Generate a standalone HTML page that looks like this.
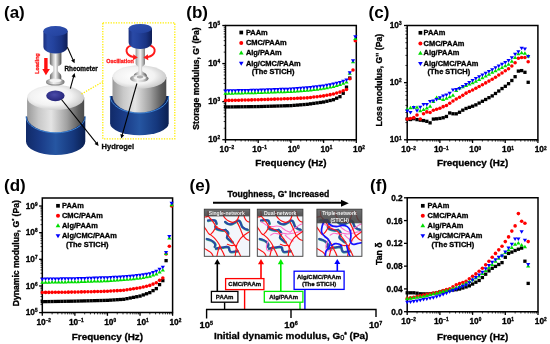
<!DOCTYPE html>
<html><head><meta charset="utf-8"><style>
html,body{margin:0;padding:0;background:#fff;}
svg{display:block;}
text{stroke:#000;stroke-width:.32px;}
text.r{stroke:#ff2020;}
text.w{stroke:none;}
</style></head><body>
<svg width="550" height="344" viewBox="0 0 550 344" font-family="'Liberation Sans', Arial, sans-serif" font-weight="bold">
<rect width="550" height="344" fill="#fff"/>
<g id="pa">
<defs>
<linearGradient id="capb" x1="0" x2="1" y1="0" y2="0">
 <stop offset="0" stop-color="#1a2f7e"/><stop offset="0.18" stop-color="#2a4aa6"/><stop offset="0.4" stop-color="#24439e"/><stop offset="0.75" stop-color="#1a3382"/><stop offset="1" stop-color="#0e1d55"/>
</linearGradient>
<linearGradient id="capt" x1="0" x2="1" y1="0" y2="1">
 <stop offset="0" stop-color="#2f50b0"/><stop offset="1" stop-color="#22419c"/>
</linearGradient>
<linearGradient id="silv" x1="0" x2="1" y1="0" y2="0">
 <stop offset="0" stop-color="#6a6a6a"/><stop offset="0.3" stop-color="#c8c8c8"/><stop offset="0.5" stop-color="#f4f4f4"/><stop offset="0.75" stop-color="#a0a0a0"/><stop offset="1" stop-color="#505050"/>
</linearGradient>
<linearGradient id="plate" x1="0" x2="1" y1="0" y2="0">
 <stop offset="0" stop-color="#8a8a8a"/><stop offset="0.4" stop-color="#f0f0f0"/><stop offset="0.7" stop-color="#d0d0d0"/><stop offset="1" stop-color="#707070"/>
</linearGradient>
<linearGradient id="gbody" x1="0" x2="1" y1="0" y2="0">
 <stop offset="0" stop-color="#9a9a9a"/><stop offset="0.2" stop-color="#c8c8c8"/><stop offset="0.42" stop-color="#e4e4e4"/><stop offset="0.7" stop-color="#a0a0a0"/><stop offset="0.9" stop-color="#5e5e5e"/><stop offset="1" stop-color="#4a4a4a"/>
</linearGradient>
<radialGradient id="gtop" cx="0.42" cy="0.45" r="0.6">
 <stop offset="0" stop-color="#ffffff"/><stop offset="0.6" stop-color="#f2f2f2"/><stop offset="1" stop-color="#c8c8c8"/>
</radialGradient>
<linearGradient id="bband" x1="0" x2="1" y1="0" y2="0">
 <stop offset="0" stop-color="#112a68"/><stop offset="0.25" stop-color="#1a3c88"/><stop offset="0.5" stop-color="#2656a2"/><stop offset="0.8" stop-color="#15377c"/><stop offset="1" stop-color="#0a1f50"/>
</linearGradient>
<radialGradient id="gel" cx="0.45" cy="0.4" r="0.6">
 <stop offset="0" stop-color="#4a4aa8"/><stop offset="1" stop-color="#25257a"/>
</radialGradient>
</defs>
<path d="M26.00 116.50V141.50A29.65 13.50 0 0 0 85.30 141.50V116.50Z" fill="url(#bband)"/>
<path d="M26.00 116.50A29.65 16.30 0 0 0 85.30 116.50" fill="none" stroke="#3f86d6" stroke-width="1.0"/>
<path d="M27.10 97.50V116.50A28.55 15.70 0 0 0 84.20 116.50V97.50Z" fill="url(#gbody)"/>
<ellipse cx="55.65" cy="97.50" rx="28.55" ry="12.50" fill="url(#gtop)" />
<ellipse cx="55.40" cy="95.80" rx="9.20" ry="5.40" fill="url(#gel)" />
<path d="M49.80 52.00L49.80 63.00C49.80 66.00 53.30 65.00 53.30 67.00L53.30 70.50C53.30 72.50 49.90 73.50 49.90 76.00L49.90 81.00L61.30 81.00L61.30 76.00C61.30 73.50 57.90 72.50 57.90 70.50L57.90 67.00C57.90 65.00 61.40 66.00 61.40 63.00L61.40 52.00Z" fill="url(#silv)"/>
<ellipse cx="55.30" cy="82.60" rx="9.30" ry="3.00" fill="#8a8a8a" />
<ellipse cx="55.30" cy="81.40" rx="9.30" ry="3.00" fill="url(#plate)" />
<ellipse cx="55.50" cy="80.60" rx="6.00" ry="1.70" fill="#f4f4f4" />
<path d="M43.40 31.00V46.50C43.40 49.70 46.42 53.24 55.50 53.42C64.58 53.24 67.60 49.70 67.60 46.50V31.00Z" fill="url(#capb)"/>
<ellipse cx="55.50" cy="31.00" rx="12.10" ry="4.90" fill="url(#capt)" />
<path d="M110.10 96.00V123.20A29.30 12.00 0 0 0 168.70 123.20V96.00Z" fill="url(#bband)"/>
<path d="M110.10 96.00A29.30 17.10 0 0 0 168.70 96.00" fill="none" stroke="#3f86d6" stroke-width="1.0"/>
<path d="M112.50 77.00V96.00A26.90 16.50 0 0 0 166.30 96.00V77.00Z" fill="url(#gbody)"/>
<ellipse cx="139.40" cy="77.00" rx="26.90" ry="11.70" fill="url(#gtop)" />
<path d="M135.60 47.00L135.60 63.00C135.60 66.00 138.50 65.50 138.50 67.50L138.50 70.50C138.50 72.50 133.80 73.00 133.80 75.50L133.80 80.50L146.80 80.50L146.80 75.50C146.80 73.00 142.10 72.50 142.10 70.50L142.10 67.50C142.10 65.50 145.00 66.00 145.00 63.00L145.00 47.00Z" fill="url(#silv)"/>
<ellipse cx="139.30" cy="78.50" rx="9.30" ry="3.80" fill="url(#plate)" />
<ellipse cx="139.80" cy="77.80" rx="6.20" ry="2.00" fill="#f4f4f4" />
<ellipse cx="140.00" cy="77.00" rx="3.20" ry="1.40" fill="#b0b0b0" />
<path d="M130.8 45.6 C127.2 46.8 126.2 49.3 126.6 51.5 C127.2 54.6 130.2 56.4 133.6 57.1" fill="none" stroke="#ff1a1a" stroke-width="1.9"/>
<path d="M137.8 57.5 L133.3 54.2 L132.9 60.2 Z" fill="#ff1a1a"/>
<path d="M150.0 45.4 C153.8 46.8 155.0 49.3 154.6 51.5 C154.0 54.6 151.0 56.4 147.6 57.1" fill="none" stroke="#ff1a1a" stroke-width="1.9"/>
<path d="M143.4 57.5 L147.9 54.2 L148.3 60.2 Z" fill="#ff1a1a"/>
<path d="M128.60 28.60V42.10C128.60 45.30 131.53 48.84 140.30 49.02C149.08 48.84 152.00 45.30 152.00 42.10V28.60Z" fill="url(#capb)"/>
<ellipse cx="140.30" cy="28.60" rx="11.70" ry="4.60" fill="url(#capt)" />
<text x="106.2" y="62.6" font-size="5.4" fill="#ff2020" class="r">Oscillation</text>
<text transform="translate(39.4,63.5) rotate(-90)" font-size="5.3" fill="#ff2020" class="r" text-anchor="middle">Loading</text>
<path d="M44.2 57.9H47.6V69.0H49.9L45.9 75.3L42.3 69.0H44.2Z" fill="#ff1010"/>
<rect x="102.8" y="22.8" width="72.0" height="116.0" fill="none" stroke="#ffee00" stroke-width="1.3" stroke-dasharray="1.3 1.3"/>
<line x1="81.5" y1="94.0" x2="102.8" y2="81.8" stroke="#ffee00" stroke-width="1.3" stroke-dasharray="1.3 1.3"/>
<text x="64.4" y="70.5" font-size="6.4" fill="#111">Rheometer</text>
<text x="101.6" y="149.0" font-size="7.5" fill="#111">Hydrogel</text>
<line x1="67.40" y1="47.30" x2="73.16" y2="60.11" stroke="#000" stroke-width="1.1"/><path d="M74.60 63.30L71.13 60.47L74.78 58.83Z" fill="#000"/>
<line x1="70.30" y1="88.70" x2="73.67" y2="76.47" stroke="#000" stroke-width="1.1"/><path d="M74.60 73.10L75.47 77.49L71.61 76.42Z" fill="#000"/>
<line x1="61.50" y1="99.50" x2="96.41" y2="143.17" stroke="#000" stroke-width="1.1"/><path d="M98.60 145.90L94.54 144.02L97.66 141.53Z" fill="#000"/>
<line x1="136.90" y1="83.50" x2="122.16" y2="135.13" stroke="#000" stroke-width="1.1"/><path d="M121.20 138.50L120.37 134.10L124.22 135.20Z" fill="#000"/>
</g>
<g id="pe">
<defs>
<linearGradient id="hdr" x1="0" x2="0" y1="0" y2="1"><stop offset="0" stop-color="#5a5a5a"/><stop offset="0.5" stop-color="#484848"/><stop offset="1" stop-color="#3a3a3a"/></linearGradient>
</defs>
<clipPath id="cb203"><rect x="204.3" y="209.2" width="45.40" height="47.1"/></clipPath>
<g clip-path="url(#cb203)">
<rect x="204.3" y="209.2" width="45.40" height="47.1" fill="#f3f6fb"/>
<g transform="translate(203,215) scale(0.12214)" fill="none" stroke-linecap="round" stroke-linejoin="round">
<path d="M40 45C45.0 44.2 60.0 40.0 70 40C80.0 40.0 93.3 40.0 100 45C106.7 50.0 108.3 65.8 110 70" stroke="#3aa08c" stroke-width="21" transform="translate(2,3)"/>
<path d="M100 92C100.8 95.0 100.0 105.3 105 110C110.0 114.7 120.8 117.5 130 120C139.2 122.5 150.8 125.0 160 125C169.2 125.0 180.8 120.8 185 120" stroke="#3aa08c" stroke-width="21" transform="translate(2,3)"/>
<path d="M195 130C196.7 132.5 204.2 139.2 205 145C205.8 150.8 201.7 158.3 200 165C198.3 171.7 193.3 179.2 195 185C196.7 190.8 204.2 195.0 210 200C215.8 205.0 224.7 211.3 230 215C235.3 218.7 240.0 220.8 242 222" stroke="#3aa08c" stroke-width="21" transform="translate(2,3)"/>
<path d="M180 55C183.3 57.5 191.7 66.7 200 70C208.3 73.3 220.0 76.7 230 75C240.0 73.3 250.8 65.0 260 60C269.2 55.0 278.3 46.7 285 45C291.7 43.3 295.8 45.8 300 50C304.2 54.2 306.7 62.5 310 70C313.3 77.5 315.0 88.3 320 95C325.0 101.7 332.5 105.8 340 110C347.5 114.2 360.8 118.3 365 120" stroke="#3aa08c" stroke-width="21" transform="translate(2,3)"/>
<path d="M30 195C35.0 196.7 50.8 200.8 60 205C69.2 209.2 78.3 214.2 85 220C91.7 225.8 98.3 233.3 100 240C101.7 246.7 95.8 256.7 95 260" stroke="#3aa08c" stroke-width="21" transform="translate(2,3)"/>
<path d="M105 275C108.3 274.2 115.8 271.7 125 270C134.2 268.3 149.2 266.7 160 265C170.8 263.3 181.7 260.0 190 260C198.3 260.0 205.8 260.8 210 265C214.2 269.2 212.5 279.2 215 285C217.5 290.8 218.3 297.5 225 300C231.7 302.5 245.5 300.8 255 300C264.5 299.2 277.5 295.8 282 295" stroke="#3aa08c" stroke-width="21" transform="translate(2,3)"/>
<path d="M40 45C45.0 44.2 60.0 40.0 70 40C80.0 40.0 93.3 40.0 100 45C106.7 50.0 108.3 65.8 110 70" stroke="#2a44a6" stroke-width="15"/>
<path d="M100 92C100.8 95.0 100.0 105.3 105 110C110.0 114.7 120.8 117.5 130 120C139.2 122.5 150.8 125.0 160 125C169.2 125.0 180.8 120.8 185 120" stroke="#2a44a6" stroke-width="15"/>
<path d="M195 130C196.7 132.5 204.2 139.2 205 145C205.8 150.8 201.7 158.3 200 165C198.3 171.7 193.3 179.2 195 185C196.7 190.8 204.2 195.0 210 200C215.8 205.0 224.7 211.3 230 215C235.3 218.7 240.0 220.8 242 222" stroke="#2a44a6" stroke-width="15"/>
<path d="M180 55C183.3 57.5 191.7 66.7 200 70C208.3 73.3 220.0 76.7 230 75C240.0 73.3 250.8 65.0 260 60C269.2 55.0 278.3 46.7 285 45C291.7 43.3 295.8 45.8 300 50C304.2 54.2 306.7 62.5 310 70C313.3 77.5 315.0 88.3 320 95C325.0 101.7 332.5 105.8 340 110C347.5 114.2 360.8 118.3 365 120" stroke="#2a44a6" stroke-width="15"/>
<path d="M30 195C35.0 196.7 50.8 200.8 60 205C69.2 209.2 78.3 214.2 85 220C91.7 225.8 98.3 233.3 100 240C101.7 246.7 95.8 256.7 95 260" stroke="#2a44a6" stroke-width="15"/>
<path d="M105 275C108.3 274.2 115.8 271.7 125 270C134.2 268.3 149.2 266.7 160 265C170.8 263.3 181.7 260.0 190 260C198.3 260.0 205.8 260.8 210 265C214.2 269.2 212.5 279.2 215 285C217.5 290.8 218.3 297.5 225 300C231.7 302.5 245.5 300.8 255 300C264.5 299.2 277.5 295.8 282 295" stroke="#2a44a6" stroke-width="15"/>
<path d="M40 -30C40.8 -23.3 40.0 -1.7 45 10C50.0 21.7 61.7 29.2 70 40C78.3 50.8 89.2 65.8 95 75C100.8 84.2 99.2 89.2 105 95C110.8 100.8 118.3 104.2 130 110C141.7 115.8 163.3 121.7 175 130C186.7 138.3 190.8 148.3 200 160C209.2 171.7 220.8 186.7 230 200C239.2 213.3 246.7 226.7 255 240C263.3 253.3 272.5 266.7 280 280C287.5 293.3 295.0 309.2 300 320C305.0 330.8 308.3 340.8 310 345" stroke="#ff1414" stroke-width="9.5"/>
<path d="M160 -30C160.8 -25.0 161.7 -9.2 165 0C168.3 9.2 172.5 16.7 180 25C187.5 33.3 200.0 44.2 210 50C220.0 55.8 230.0 60.0 240 60C250.0 60.0 261.7 56.7 270 50C278.3 43.3 285.0 33.3 290 20C295.0 6.7 298.3 -21.7 300 -30" stroke="#ff1414" stroke-width="9.5"/>
<path d="M280 60C283.3 66.7 293.3 85.0 300 100C306.7 115.0 315.0 138.3 320 150C325.0 161.7 323.3 161.7 330 170C336.7 178.3 350.0 193.3 360 200C370.0 206.7 385.0 208.3 390 210" stroke="#ff1414" stroke-width="9.5"/>
<path d="M330 170C326.7 173.3 316.7 181.7 310 190C303.3 198.3 295.8 210.0 290 220C284.2 230.0 278.3 238.3 275 250C271.7 261.7 272.2 274.2 270 290C267.8 305.8 263.3 335.8 262 345" stroke="#ff1414" stroke-width="9.5"/>
<path d="M5 90C8.3 95.0 18.3 110.0 25 120C31.7 130.0 39.2 143.3 45 150C50.8 156.7 54.2 161.7 60 160C65.8 158.3 73.3 148.3 80 140C86.7 131.7 94.2 117.5 100 110C105.8 102.5 112.5 97.5 115 95" stroke="#ff1414" stroke-width="9.5"/>
<path d="M60 160C65.0 164.2 80.8 175.8 90 185C99.2 194.2 107.5 205.0 115 215C122.5 225.0 129.2 234.2 135 245C140.8 255.8 145.0 269.2 150 280C155.0 290.8 160.0 299.2 165 310C170.0 320.8 177.5 339.2 180 345" stroke="#ff1414" stroke-width="9.5"/>
<path d="M5 270C9.2 272.5 21.7 280.0 30 285C38.3 290.0 47.5 294.2 55 300C62.5 305.8 70.0 312.5 75 320C80.0 327.5 83.3 340.8 85 345" stroke="#ff1414" stroke-width="9.5"/>
<path d="M390 130C385.0 133.3 370.0 143.3 360 150C350.0 156.7 335.0 166.7 330 170" stroke="#ff1414" stroke-width="9.5"/>
<path d="M200 240C205.0 241.7 219.7 248.7 230 250C240.3 251.3 254.5 248.0 262 248C269.5 248.0 272.8 249.7 275 250" stroke="#ff1414" stroke-width="9.5"/>
<path d="M135 255C132.8 262.5 125.8 285.0 122 300C118.2 315.0 113.7 337.5 112 345" stroke="#ff1414" stroke-width="9.5"/>
<path d="M5 20C8.3 19.2 18.3 16.7 25 15C31.7 13.3 41.7 10.8 45 10" stroke="#ff1414" stroke-width="9.5"/>
<path d="M330 -30C331.7 -21.7 335.0 6.7 340 20C345.0 33.3 351.7 43.3 360 50C368.3 56.7 385.0 58.3 390 60" stroke="#ff1414" stroke-width="9.5"/>
</g></g>
<rect x="204.3" y="209.2" width="45.40" height="7.20" fill="url(#hdr)" opacity="0.86"/>
<rect x="204.3" y="209.2" width="45.40" height="47.10" fill="none" stroke="#3a3a3a" stroke-width="0.9"/>
<text x="208.8" y="215.4" font-size="4.9" fill="#f0f0f0" class="w" textLength="35.90" lengthAdjust="spacingAndGlyphs">Single-network</text>
<clipPath id="cb256"><rect x="257.3" y="209.2" width="45.60" height="47.1"/></clipPath>
<g clip-path="url(#cb256)">
<rect x="257.3" y="209.2" width="45.60" height="47.1" fill="#f3f6fb"/>
<g transform="translate(256,215) scale(0.12214)" fill="none" stroke-linecap="round" stroke-linejoin="round">
<path d="M40 45C45.0 44.2 60.0 40.0 70 40C80.0 40.0 93.3 40.0 100 45C106.7 50.0 108.3 65.8 110 70" stroke="#3aa08c" stroke-width="21" transform="translate(2,3)"/>
<path d="M100 92C100.8 95.0 100.0 105.3 105 110C110.0 114.7 120.8 117.5 130 120C139.2 122.5 150.8 125.0 160 125C169.2 125.0 180.8 120.8 185 120" stroke="#3aa08c" stroke-width="21" transform="translate(2,3)"/>
<path d="M195 130C196.7 132.5 204.2 139.2 205 145C205.8 150.8 201.7 158.3 200 165C198.3 171.7 193.3 179.2 195 185C196.7 190.8 204.2 195.0 210 200C215.8 205.0 224.7 211.3 230 215C235.3 218.7 240.0 220.8 242 222" stroke="#3aa08c" stroke-width="21" transform="translate(2,3)"/>
<path d="M180 55C183.3 57.5 191.7 66.7 200 70C208.3 73.3 220.0 76.7 230 75C240.0 73.3 250.8 65.0 260 60C269.2 55.0 278.3 46.7 285 45C291.7 43.3 295.8 45.8 300 50C304.2 54.2 306.7 62.5 310 70C313.3 77.5 315.0 88.3 320 95C325.0 101.7 332.5 105.8 340 110C347.5 114.2 360.8 118.3 365 120" stroke="#3aa08c" stroke-width="21" transform="translate(2,3)"/>
<path d="M30 195C35.0 196.7 50.8 200.8 60 205C69.2 209.2 78.3 214.2 85 220C91.7 225.8 98.3 233.3 100 240C101.7 246.7 95.8 256.7 95 260" stroke="#3aa08c" stroke-width="21" transform="translate(2,3)"/>
<path d="M105 275C108.3 274.2 115.8 271.7 125 270C134.2 268.3 149.2 266.7 160 265C170.8 263.3 181.7 260.0 190 260C198.3 260.0 205.8 260.8 210 265C214.2 269.2 212.5 279.2 215 285C217.5 290.8 218.3 297.5 225 300C231.7 302.5 245.5 300.8 255 300C264.5 299.2 277.5 295.8 282 295" stroke="#3aa08c" stroke-width="21" transform="translate(2,3)"/>
<path d="M40 45C45.0 44.2 60.0 40.0 70 40C80.0 40.0 93.3 40.0 100 45C106.7 50.0 108.3 65.8 110 70" stroke="#2a44a6" stroke-width="15"/>
<path d="M100 92C100.8 95.0 100.0 105.3 105 110C110.0 114.7 120.8 117.5 130 120C139.2 122.5 150.8 125.0 160 125C169.2 125.0 180.8 120.8 185 120" stroke="#2a44a6" stroke-width="15"/>
<path d="M195 130C196.7 132.5 204.2 139.2 205 145C205.8 150.8 201.7 158.3 200 165C198.3 171.7 193.3 179.2 195 185C196.7 190.8 204.2 195.0 210 200C215.8 205.0 224.7 211.3 230 215C235.3 218.7 240.0 220.8 242 222" stroke="#2a44a6" stroke-width="15"/>
<path d="M180 55C183.3 57.5 191.7 66.7 200 70C208.3 73.3 220.0 76.7 230 75C240.0 73.3 250.8 65.0 260 60C269.2 55.0 278.3 46.7 285 45C291.7 43.3 295.8 45.8 300 50C304.2 54.2 306.7 62.5 310 70C313.3 77.5 315.0 88.3 320 95C325.0 101.7 332.5 105.8 340 110C347.5 114.2 360.8 118.3 365 120" stroke="#2a44a6" stroke-width="15"/>
<path d="M30 195C35.0 196.7 50.8 200.8 60 205C69.2 209.2 78.3 214.2 85 220C91.7 225.8 98.3 233.3 100 240C101.7 246.7 95.8 256.7 95 260" stroke="#2a44a6" stroke-width="15"/>
<path d="M105 275C108.3 274.2 115.8 271.7 125 270C134.2 268.3 149.2 266.7 160 265C170.8 263.3 181.7 260.0 190 260C198.3 260.0 205.8 260.8 210 265C214.2 269.2 212.5 279.2 215 285C217.5 290.8 218.3 297.5 225 300C231.7 302.5 245.5 300.8 255 300C264.5 299.2 277.5 295.8 282 295" stroke="#2a44a6" stroke-width="15"/>
<path d="M40 55C43.3 56.7 53.3 60.8 60 65C66.7 69.2 73.3 75.8 80 80C86.7 84.2 90.0 87.5 100 90C110.0 92.5 128.3 95.0 140 95C151.7 95.0 160.0 90.0 170 90C180.0 90.0 191.7 91.7 200 95C208.3 98.3 211.7 104.2 220 110C228.3 115.8 240.0 125.0 250 130C260.0 135.0 271.7 141.7 280 140C288.3 138.3 291.7 126.7 300 120C308.3 113.3 320.0 106.7 330 100C340.0 93.3 350.0 85.0 360 80C370.0 75.0 385.0 71.7 390 70" stroke="#ff70c8" stroke-width="9"/>
<path d="M120 165C125.0 162.5 138.3 151.7 150 150C161.7 148.3 178.3 155.0 190 155C201.7 155.0 208.3 150.0 220 150C231.7 150.0 246.7 155.0 260 155C273.3 155.0 286.7 152.5 300 150C313.3 147.5 325.0 143.3 340 140C355.0 136.7 381.7 131.7 390 130" stroke="#ff70c8" stroke-width="9"/>
<path d="M100 210C98.3 214.2 92.5 226.7 90 235C87.5 243.3 85.0 251.7 85 260C85.0 268.3 85.8 279.2 90 285C94.2 290.8 102.5 294.2 110 295C117.5 295.8 130.8 290.8 135 290" stroke="#ff70c8" stroke-width="9"/>
<path d="M240 165C243.3 168.3 253.3 179.2 260 185C266.7 190.8 272.5 195.5 280 200C287.5 204.5 300.8 210.0 305 212" stroke="#ff70c8" stroke-width="9"/>
<path d="M40 -30C40.8 -23.3 40.0 -1.7 45 10C50.0 21.7 61.7 29.2 70 40C78.3 50.8 89.2 65.8 95 75C100.8 84.2 99.2 89.2 105 95C110.8 100.8 118.3 104.2 130 110C141.7 115.8 163.3 121.7 175 130C186.7 138.3 190.8 148.3 200 160C209.2 171.7 220.8 186.7 230 200C239.2 213.3 246.7 226.7 255 240C263.3 253.3 272.5 266.7 280 280C287.5 293.3 295.0 309.2 300 320C305.0 330.8 308.3 340.8 310 345" stroke="#ff1414" stroke-width="9.5"/>
<path d="M160 -30C160.8 -25.0 161.7 -9.2 165 0C168.3 9.2 172.5 16.7 180 25C187.5 33.3 200.0 44.2 210 50C220.0 55.8 230.0 60.0 240 60C250.0 60.0 261.7 56.7 270 50C278.3 43.3 285.0 33.3 290 20C295.0 6.7 298.3 -21.7 300 -30" stroke="#ff1414" stroke-width="9.5"/>
<path d="M280 60C283.3 66.7 293.3 85.0 300 100C306.7 115.0 315.0 138.3 320 150C325.0 161.7 323.3 161.7 330 170C336.7 178.3 350.0 193.3 360 200C370.0 206.7 385.0 208.3 390 210" stroke="#ff1414" stroke-width="9.5"/>
<path d="M330 170C326.7 173.3 316.7 181.7 310 190C303.3 198.3 295.8 210.0 290 220C284.2 230.0 278.3 238.3 275 250C271.7 261.7 272.2 274.2 270 290C267.8 305.8 263.3 335.8 262 345" stroke="#ff1414" stroke-width="9.5"/>
<path d="M5 90C8.3 95.0 18.3 110.0 25 120C31.7 130.0 39.2 143.3 45 150C50.8 156.7 54.2 161.7 60 160C65.8 158.3 73.3 148.3 80 140C86.7 131.7 94.2 117.5 100 110C105.8 102.5 112.5 97.5 115 95" stroke="#ff1414" stroke-width="9.5"/>
<path d="M60 160C65.0 164.2 80.8 175.8 90 185C99.2 194.2 107.5 205.0 115 215C122.5 225.0 129.2 234.2 135 245C140.8 255.8 145.0 269.2 150 280C155.0 290.8 160.0 299.2 165 310C170.0 320.8 177.5 339.2 180 345" stroke="#ff1414" stroke-width="9.5"/>
<path d="M5 270C9.2 272.5 21.7 280.0 30 285C38.3 290.0 47.5 294.2 55 300C62.5 305.8 70.0 312.5 75 320C80.0 327.5 83.3 340.8 85 345" stroke="#ff1414" stroke-width="9.5"/>
<path d="M390 130C385.0 133.3 370.0 143.3 360 150C350.0 156.7 335.0 166.7 330 170" stroke="#ff1414" stroke-width="9.5"/>
<path d="M200 240C205.0 241.7 219.7 248.7 230 250C240.3 251.3 254.5 248.0 262 248C269.5 248.0 272.8 249.7 275 250" stroke="#ff1414" stroke-width="9.5"/>
<path d="M135 255C132.8 262.5 125.8 285.0 122 300C118.2 315.0 113.7 337.5 112 345" stroke="#ff1414" stroke-width="9.5"/>
<path d="M5 20C8.3 19.2 18.3 16.7 25 15C31.7 13.3 41.7 10.8 45 10" stroke="#ff1414" stroke-width="9.5"/>
<path d="M330 -30C331.7 -21.7 335.0 6.7 340 20C345.0 33.3 351.7 43.3 360 50C368.3 56.7 385.0 58.3 390 60" stroke="#ff1414" stroke-width="9.5"/>
</g></g>
<rect x="257.3" y="209.2" width="45.60" height="7.20" fill="url(#hdr)" opacity="0.86"/>
<rect x="257.3" y="209.2" width="45.60" height="47.10" fill="none" stroke="#3a3a3a" stroke-width="0.9"/>
<text x="263.9" y="215.1" font-size="4.9" fill="#f0f0f0" class="w" textLength="32.50" lengthAdjust="spacingAndGlyphs">Dual-network</text>
<clipPath id="cb315"><rect x="316.9" y="209.2" width="45.00" height="47.1"/></clipPath>
<g clip-path="url(#cb315)">
<rect x="316.9" y="209.2" width="45.00" height="47.1" fill="#f3f6fb"/>
<g transform="translate(315.5,215) scale(0.12214)" fill="none" stroke-linecap="round" stroke-linejoin="round">
<path d="M40 45C45.0 44.2 60.0 40.0 70 40C80.0 40.0 93.3 40.0 100 45C106.7 50.0 108.3 65.8 110 70" stroke="#3aa08c" stroke-width="21" transform="translate(2,3)"/>
<path d="M100 92C100.8 95.0 100.0 105.3 105 110C110.0 114.7 120.8 117.5 130 120C139.2 122.5 150.8 125.0 160 125C169.2 125.0 180.8 120.8 185 120" stroke="#3aa08c" stroke-width="21" transform="translate(2,3)"/>
<path d="M195 130C196.7 132.5 204.2 139.2 205 145C205.8 150.8 201.7 158.3 200 165C198.3 171.7 193.3 179.2 195 185C196.7 190.8 204.2 195.0 210 200C215.8 205.0 224.7 211.3 230 215C235.3 218.7 240.0 220.8 242 222" stroke="#3aa08c" stroke-width="21" transform="translate(2,3)"/>
<path d="M180 55C183.3 57.5 191.7 66.7 200 70C208.3 73.3 220.0 76.7 230 75C240.0 73.3 250.8 65.0 260 60C269.2 55.0 278.3 46.7 285 45C291.7 43.3 295.8 45.8 300 50C304.2 54.2 306.7 62.5 310 70C313.3 77.5 315.0 88.3 320 95C325.0 101.7 332.5 105.8 340 110C347.5 114.2 360.8 118.3 365 120" stroke="#3aa08c" stroke-width="21" transform="translate(2,3)"/>
<path d="M30 195C35.0 196.7 50.8 200.8 60 205C69.2 209.2 78.3 214.2 85 220C91.7 225.8 98.3 233.3 100 240C101.7 246.7 95.8 256.7 95 260" stroke="#3aa08c" stroke-width="21" transform="translate(2,3)"/>
<path d="M105 275C108.3 274.2 115.8 271.7 125 270C134.2 268.3 149.2 266.7 160 265C170.8 263.3 181.7 260.0 190 260C198.3 260.0 205.8 260.8 210 265C214.2 269.2 212.5 279.2 215 285C217.5 290.8 218.3 297.5 225 300C231.7 302.5 245.5 300.8 255 300C264.5 299.2 277.5 295.8 282 295" stroke="#3aa08c" stroke-width="21" transform="translate(2,3)"/>
<path d="M40 45C45.0 44.2 60.0 40.0 70 40C80.0 40.0 93.3 40.0 100 45C106.7 50.0 108.3 65.8 110 70" stroke="#2a44a6" stroke-width="15"/>
<path d="M100 92C100.8 95.0 100.0 105.3 105 110C110.0 114.7 120.8 117.5 130 120C139.2 122.5 150.8 125.0 160 125C169.2 125.0 180.8 120.8 185 120" stroke="#2a44a6" stroke-width="15"/>
<path d="M195 130C196.7 132.5 204.2 139.2 205 145C205.8 150.8 201.7 158.3 200 165C198.3 171.7 193.3 179.2 195 185C196.7 190.8 204.2 195.0 210 200C215.8 205.0 224.7 211.3 230 215C235.3 218.7 240.0 220.8 242 222" stroke="#2a44a6" stroke-width="15"/>
<path d="M180 55C183.3 57.5 191.7 66.7 200 70C208.3 73.3 220.0 76.7 230 75C240.0 73.3 250.8 65.0 260 60C269.2 55.0 278.3 46.7 285 45C291.7 43.3 295.8 45.8 300 50C304.2 54.2 306.7 62.5 310 70C313.3 77.5 315.0 88.3 320 95C325.0 101.7 332.5 105.8 340 110C347.5 114.2 360.8 118.3 365 120" stroke="#2a44a6" stroke-width="15"/>
<path d="M30 195C35.0 196.7 50.8 200.8 60 205C69.2 209.2 78.3 214.2 85 220C91.7 225.8 98.3 233.3 100 240C101.7 246.7 95.8 256.7 95 260" stroke="#2a44a6" stroke-width="15"/>
<path d="M105 275C108.3 274.2 115.8 271.7 125 270C134.2 268.3 149.2 266.7 160 265C170.8 263.3 181.7 260.0 190 260C198.3 260.0 205.8 260.8 210 265C214.2 269.2 212.5 279.2 215 285C217.5 290.8 218.3 297.5 225 300C231.7 302.5 245.5 300.8 255 300C264.5 299.2 277.5 295.8 282 295" stroke="#2a44a6" stroke-width="15"/>
<path d="M40 55C43.3 56.7 53.3 60.8 60 65C66.7 69.2 73.3 75.8 80 80C86.7 84.2 90.0 87.5 100 90C110.0 92.5 128.3 95.0 140 95C151.7 95.0 160.0 90.0 170 90C180.0 90.0 191.7 91.7 200 95C208.3 98.3 211.7 104.2 220 110C228.3 115.8 240.0 125.0 250 130C260.0 135.0 271.7 141.7 280 140C288.3 138.3 291.7 126.7 300 120C308.3 113.3 320.0 106.7 330 100C340.0 93.3 350.0 85.0 360 80C370.0 75.0 385.0 71.7 390 70" stroke="#ff70c8" stroke-width="9"/>
<path d="M120 165C125.0 162.5 138.3 151.7 150 150C161.7 148.3 178.3 155.0 190 155C201.7 155.0 208.3 150.0 220 150C231.7 150.0 246.7 155.0 260 155C273.3 155.0 286.7 152.5 300 150C313.3 147.5 325.0 143.3 340 140C355.0 136.7 381.7 131.7 390 130" stroke="#ff70c8" stroke-width="9"/>
<path d="M100 210C98.3 214.2 92.5 226.7 90 235C87.5 243.3 85.0 251.7 85 260C85.0 268.3 85.8 279.2 90 285C94.2 290.8 102.5 294.2 110 295C117.5 295.8 130.8 290.8 135 290" stroke="#ff70c8" stroke-width="9"/>
<path d="M240 165C243.3 168.3 253.3 179.2 260 185C266.7 190.8 272.5 195.5 280 200C287.5 204.5 300.8 210.0 305 212" stroke="#ff70c8" stroke-width="9"/>
<path d="M40 -30C40.8 -23.3 40.0 -1.7 45 10C50.0 21.7 61.7 29.2 70 40C78.3 50.8 89.2 65.8 95 75C100.8 84.2 99.2 89.2 105 95C110.8 100.8 118.3 104.2 130 110C141.7 115.8 163.3 121.7 175 130C186.7 138.3 190.8 148.3 200 160C209.2 171.7 220.8 186.7 230 200C239.2 213.3 246.7 226.7 255 240C263.3 253.3 272.5 266.7 280 280C287.5 293.3 295.0 309.2 300 320C305.0 330.8 308.3 340.8 310 345" stroke="#ff1414" stroke-width="9.5"/>
<path d="M160 -30C160.8 -25.0 161.7 -9.2 165 0C168.3 9.2 172.5 16.7 180 25C187.5 33.3 200.0 44.2 210 50C220.0 55.8 230.0 60.0 240 60C250.0 60.0 261.7 56.7 270 50C278.3 43.3 285.0 33.3 290 20C295.0 6.7 298.3 -21.7 300 -30" stroke="#ff1414" stroke-width="9.5"/>
<path d="M280 60C283.3 66.7 293.3 85.0 300 100C306.7 115.0 315.0 138.3 320 150C325.0 161.7 323.3 161.7 330 170C336.7 178.3 350.0 193.3 360 200C370.0 206.7 385.0 208.3 390 210" stroke="#ff1414" stroke-width="9.5"/>
<path d="M330 170C326.7 173.3 316.7 181.7 310 190C303.3 198.3 295.8 210.0 290 220C284.2 230.0 278.3 238.3 275 250C271.7 261.7 272.2 274.2 270 290C267.8 305.8 263.3 335.8 262 345" stroke="#ff1414" stroke-width="9.5"/>
<path d="M5 90C8.3 95.0 18.3 110.0 25 120C31.7 130.0 39.2 143.3 45 150C50.8 156.7 54.2 161.7 60 160C65.8 158.3 73.3 148.3 80 140C86.7 131.7 94.2 117.5 100 110C105.8 102.5 112.5 97.5 115 95" stroke="#ff1414" stroke-width="9.5"/>
<path d="M60 160C65.0 164.2 80.8 175.8 90 185C99.2 194.2 107.5 205.0 115 215C122.5 225.0 129.2 234.2 135 245C140.8 255.8 145.0 269.2 150 280C155.0 290.8 160.0 299.2 165 310C170.0 320.8 177.5 339.2 180 345" stroke="#ff1414" stroke-width="9.5"/>
<path d="M5 270C9.2 272.5 21.7 280.0 30 285C38.3 290.0 47.5 294.2 55 300C62.5 305.8 70.0 312.5 75 320C80.0 327.5 83.3 340.8 85 345" stroke="#ff1414" stroke-width="9.5"/>
<path d="M390 130C385.0 133.3 370.0 143.3 360 150C350.0 156.7 335.0 166.7 330 170" stroke="#ff1414" stroke-width="9.5"/>
<path d="M200 240C205.0 241.7 219.7 248.7 230 250C240.3 251.3 254.5 248.0 262 248C269.5 248.0 272.8 249.7 275 250" stroke="#ff1414" stroke-width="9.5"/>
<path d="M135 255C132.8 262.5 125.8 285.0 122 300C118.2 315.0 113.7 337.5 112 345" stroke="#ff1414" stroke-width="9.5"/>
<path d="M5 20C8.3 19.2 18.3 16.7 25 15C31.7 13.3 41.7 10.8 45 10" stroke="#ff1414" stroke-width="9.5"/>
<path d="M330 -30C331.7 -21.7 335.0 6.7 340 20C345.0 33.3 351.7 43.3 360 50C368.3 56.7 385.0 58.3 390 60" stroke="#ff1414" stroke-width="9.5"/>
<path d="M75 40C71.7 48.3 59.2 73.3 55 90C50.8 106.7 46.7 125.8 50 140C53.3 154.2 65.8 165.0 75 175C84.2 185.0 97.5 190.0 105 200C112.5 210.0 120.0 223.3 120 235C120.0 246.7 110.8 259.2 105 270C99.2 280.8 89.2 287.5 85 300C80.8 312.5 80.8 337.5 80 345" stroke="#1414ff" stroke-width="14"/>
<path d="M95 40C99.2 46.7 107.5 70.8 120 80C132.5 89.2 153.3 94.2 170 95C186.7 95.8 205.0 85.0 220 85C235.0 85.0 249.2 87.5 260 95C270.8 102.5 280.0 116.7 285 130C290.0 143.3 290.0 160.8 290 175C290.0 189.2 282.5 204.2 285 215C287.5 225.8 295.8 236.7 305 240C314.2 243.3 325.8 237.5 340 235C354.2 232.5 381.7 226.7 390 225" stroke="#1414ff" stroke-width="14"/>
<path d="M255 250C256.7 256.7 261.7 278.3 265 290C268.3 301.7 271.7 310.8 275 320C278.3 329.2 283.3 340.8 285 345" stroke="#1414ff" stroke-width="14"/>
<path d="M130 250C135.0 247.5 150.0 237.0 160 235C170.0 233.0 180.8 234.7 190 238C199.2 241.3 210.8 252.2 215 255" stroke="#1414ff" stroke-width="14"/>
</g></g>
<rect x="316.9" y="209.2" width="45.00" height="14.10" fill="url(#hdr)" opacity="0.86"/>
<rect x="316.9" y="209.2" width="45.00" height="47.10" fill="none" stroke="#3a3a3a" stroke-width="0.9"/>
<text x="322.2" y="215.1" font-size="4.9" fill="#f0f0f0" class="w" textLength="34.50" lengthAdjust="spacingAndGlyphs">Triple-network</text>
<text x="330.4" y="221.5" font-size="4.9" fill="#f0f0f0" class="w" textLength="18.60" lengthAdjust="spacingAndGlyphs">(STICH)</text>
<text x="227.5" y="197.0" font-size="8.63">Toughness, G<tspan font-size="5.6" dy="-1.9">*</tspan><tspan dy="1.9"> Increased</tspan></text>
<line x1="213.0" y1="202.8" x2="342.0" y2="202.8" stroke="#000" stroke-width="2.1"/>
<path d="M348.8 203.3L341.0 199.8L341.0 206.8Z" fill="#000"/>
<line x1="217.3" y1="291.2" x2="217.3" y2="263.9" stroke="#000" stroke-width="1.6"/><path d="M217.3 259.0L220.3 264.2L214.3 264.2Z" fill="#000"/>
<line x1="261.0" y1="278.4" x2="261.0" y2="263.9" stroke="#ff0000" stroke-width="1.6"/><path d="M261.0 259.0L264.0 264.2L258.0 264.2Z" fill="#ff0000"/>
<line x1="280.8" y1="291.2" x2="280.8" y2="263.9" stroke="#00ee00" stroke-width="1.6"/><path d="M280.8 259.0L283.8 264.2L277.8 264.2Z" fill="#00ee00"/>
<line x1="337.3" y1="271.0" x2="337.3" y2="263.79999999999995" stroke="#0000ff" stroke-width="1.6"/><path d="M337.3 258.9L340.3 264.09999999999997L334.3 264.09999999999997Z" fill="#0000ff"/>
<line x1="224.6" y1="302.2" x2="224.6" y2="309.5" stroke="#000" stroke-width="1.4"/>
<line x1="244.6" y1="289.6" x2="244.6" y2="309.5" stroke="#ff0000" stroke-width="1.4"/>
<line x1="300.0" y1="302.2" x2="300.0" y2="309.5" stroke="#00ee00" stroke-width="1.4"/>
<line x1="304.9" y1="289.4" x2="304.9" y2="309.5" stroke="#0000ff" stroke-width="1.4"/>
<rect x="211.4" y="291.4" width="26.50" height="10.80" fill="#fff" stroke="#000" stroke-width="1.3"/>
<text x="224.65" y="299.00" font-size="6.0" text-anchor="middle" fill="#222">PAAm</text>
<rect x="225.6" y="278.6" width="38.30" height="11.00" fill="#fff" stroke="#ff0000" stroke-width="1.3"/>
<text x="244.75" y="286.30" font-size="6.0" text-anchor="middle" fill="#222">CMC/PAAm</text>
<rect x="264.3" y="291.4" width="38.60" height="10.80" fill="#fff" stroke="#00ee00" stroke-width="1.3"/>
<text x="283.60" y="299.00" font-size="6.0" text-anchor="middle" fill="#222">Alg/PAAm</text>
<rect x="294.1" y="271.2" width="50.00" height="18.20" fill="#fff" stroke="#0000ff" stroke-width="1.3"/>
<text x="319.10" y="278.80" font-size="6.0" text-anchor="middle" fill="#222">Alg/CMC/PAAm</text>
<text x="319.10" y="286.20" font-size="6.0" text-anchor="middle" fill="#222">(The STICH)</text>
<path d="M206.6 318.5V309.5H376.0V317.0" fill="none" stroke="#000" stroke-width="1.4"/>
<line x1="291.0" y1="309.5" x2="291.0" y2="318.0" stroke="#000" stroke-width="1.4"/>
<text x="199.6" y="327.8" font-size="9.4">10<tspan font-size="5.4" dy="-2.7">5</tspan></text>
<text x="284.2" y="327.8" font-size="9.4">10<tspan font-size="5.4" dy="-2.7">6</tspan></text>
<text x="368.9" y="327.8" font-size="9.4">10<tspan font-size="5.4" dy="-2.7">7</tspan></text>
<text x="213.9" y="338.7" font-size="9.94">Initial dynamic modulus, G<tspan font-size="7.4" dy="1.4" font-weight="normal">0</tspan><tspan font-size="6.6" dy="-3.6">*</tspan><tspan dy="2.2"> (Pa)</tspan></text>
</g>
<g id="pb">
<line x1="235.34" y1="139.70" x2="235.34" y2="141.50" stroke="#000" stroke-width="0.8"/>
<line x1="241.10" y1="139.70" x2="241.10" y2="141.50" stroke="#000" stroke-width="0.8"/>
<line x1="245.19" y1="139.70" x2="245.19" y2="141.50" stroke="#000" stroke-width="0.8"/>
<line x1="248.36" y1="139.70" x2="248.36" y2="141.50" stroke="#000" stroke-width="0.8"/>
<line x1="250.95" y1="139.70" x2="250.95" y2="141.50" stroke="#000" stroke-width="0.8"/>
<line x1="253.13" y1="139.70" x2="253.13" y2="141.50" stroke="#000" stroke-width="0.8"/>
<line x1="255.03" y1="139.70" x2="255.03" y2="141.50" stroke="#000" stroke-width="0.8"/>
<line x1="256.70" y1="139.70" x2="256.70" y2="141.50" stroke="#000" stroke-width="0.8"/>
<line x1="268.04" y1="139.70" x2="268.04" y2="141.50" stroke="#000" stroke-width="0.8"/>
<line x1="273.80" y1="139.70" x2="273.80" y2="141.50" stroke="#000" stroke-width="0.8"/>
<line x1="277.89" y1="139.70" x2="277.89" y2="141.50" stroke="#000" stroke-width="0.8"/>
<line x1="281.06" y1="139.70" x2="281.06" y2="141.50" stroke="#000" stroke-width="0.8"/>
<line x1="283.65" y1="139.70" x2="283.65" y2="141.50" stroke="#000" stroke-width="0.8"/>
<line x1="285.83" y1="139.70" x2="285.83" y2="141.50" stroke="#000" stroke-width="0.8"/>
<line x1="287.73" y1="139.70" x2="287.73" y2="141.50" stroke="#000" stroke-width="0.8"/>
<line x1="289.40" y1="139.70" x2="289.40" y2="141.50" stroke="#000" stroke-width="0.8"/>
<line x1="300.74" y1="139.70" x2="300.74" y2="141.50" stroke="#000" stroke-width="0.8"/>
<line x1="306.50" y1="139.70" x2="306.50" y2="141.50" stroke="#000" stroke-width="0.8"/>
<line x1="310.59" y1="139.70" x2="310.59" y2="141.50" stroke="#000" stroke-width="0.8"/>
<line x1="313.76" y1="139.70" x2="313.76" y2="141.50" stroke="#000" stroke-width="0.8"/>
<line x1="316.35" y1="139.70" x2="316.35" y2="141.50" stroke="#000" stroke-width="0.8"/>
<line x1="318.53" y1="139.70" x2="318.53" y2="141.50" stroke="#000" stroke-width="0.8"/>
<line x1="320.43" y1="139.70" x2="320.43" y2="141.50" stroke="#000" stroke-width="0.8"/>
<line x1="322.10" y1="139.70" x2="322.10" y2="141.50" stroke="#000" stroke-width="0.8"/>
<line x1="333.44" y1="139.70" x2="333.44" y2="141.50" stroke="#000" stroke-width="0.8"/>
<line x1="339.20" y1="139.70" x2="339.20" y2="141.50" stroke="#000" stroke-width="0.8"/>
<line x1="343.29" y1="139.70" x2="343.29" y2="141.50" stroke="#000" stroke-width="0.8"/>
<line x1="346.46" y1="139.70" x2="346.46" y2="141.50" stroke="#000" stroke-width="0.8"/>
<line x1="349.05" y1="139.70" x2="349.05" y2="141.50" stroke="#000" stroke-width="0.8"/>
<line x1="351.23" y1="139.70" x2="351.23" y2="141.50" stroke="#000" stroke-width="0.8"/>
<line x1="353.13" y1="139.70" x2="353.13" y2="141.50" stroke="#000" stroke-width="0.8"/>
<line x1="354.80" y1="139.70" x2="354.80" y2="141.50" stroke="#000" stroke-width="0.8"/>
<line x1="225.50" y1="139.70" x2="225.50" y2="142.90" stroke="#000" stroke-width="1.3"/>
<line x1="258.20" y1="139.70" x2="258.20" y2="142.90" stroke="#000" stroke-width="1.3"/>
<line x1="290.90" y1="139.70" x2="290.90" y2="142.90" stroke="#000" stroke-width="1.3"/>
<line x1="323.60" y1="139.70" x2="323.60" y2="142.90" stroke="#000" stroke-width="1.3"/>
<line x1="356.30" y1="139.70" x2="356.30" y2="142.90" stroke="#000" stroke-width="1.3"/>
<line x1="223.70" y1="128.24" x2="225.50" y2="128.24" stroke="#000" stroke-width="0.8"/>
<line x1="223.70" y1="121.54" x2="225.50" y2="121.54" stroke="#000" stroke-width="0.8"/>
<line x1="223.70" y1="116.78" x2="225.50" y2="116.78" stroke="#000" stroke-width="0.8"/>
<line x1="223.70" y1="113.09" x2="225.50" y2="113.09" stroke="#000" stroke-width="0.8"/>
<line x1="223.70" y1="110.08" x2="225.50" y2="110.08" stroke="#000" stroke-width="0.8"/>
<line x1="223.70" y1="107.53" x2="225.50" y2="107.53" stroke="#000" stroke-width="0.8"/>
<line x1="223.70" y1="105.32" x2="225.50" y2="105.32" stroke="#000" stroke-width="0.8"/>
<line x1="223.70" y1="103.38" x2="225.50" y2="103.38" stroke="#000" stroke-width="0.8"/>
<line x1="223.70" y1="90.17" x2="225.50" y2="90.17" stroke="#000" stroke-width="0.8"/>
<line x1="223.70" y1="83.47" x2="225.50" y2="83.47" stroke="#000" stroke-width="0.8"/>
<line x1="223.70" y1="78.71" x2="225.50" y2="78.71" stroke="#000" stroke-width="0.8"/>
<line x1="223.70" y1="75.03" x2="225.50" y2="75.03" stroke="#000" stroke-width="0.8"/>
<line x1="223.70" y1="72.01" x2="225.50" y2="72.01" stroke="#000" stroke-width="0.8"/>
<line x1="223.70" y1="69.46" x2="225.50" y2="69.46" stroke="#000" stroke-width="0.8"/>
<line x1="223.70" y1="67.26" x2="225.50" y2="67.26" stroke="#000" stroke-width="0.8"/>
<line x1="223.70" y1="65.31" x2="225.50" y2="65.31" stroke="#000" stroke-width="0.8"/>
<line x1="223.70" y1="52.11" x2="225.50" y2="52.11" stroke="#000" stroke-width="0.8"/>
<line x1="223.70" y1="45.40" x2="225.50" y2="45.40" stroke="#000" stroke-width="0.8"/>
<line x1="223.70" y1="40.65" x2="225.50" y2="40.65" stroke="#000" stroke-width="0.8"/>
<line x1="223.70" y1="36.96" x2="225.50" y2="36.96" stroke="#000" stroke-width="0.8"/>
<line x1="223.70" y1="33.95" x2="225.50" y2="33.95" stroke="#000" stroke-width="0.8"/>
<line x1="223.70" y1="31.40" x2="225.50" y2="31.40" stroke="#000" stroke-width="0.8"/>
<line x1="223.70" y1="29.19" x2="225.50" y2="29.19" stroke="#000" stroke-width="0.8"/>
<line x1="223.70" y1="27.24" x2="225.50" y2="27.24" stroke="#000" stroke-width="0.8"/>
<line x1="222.30" y1="139.70" x2="225.50" y2="139.70" stroke="#000" stroke-width="1.3"/>
<line x1="222.30" y1="101.63" x2="225.50" y2="101.63" stroke="#000" stroke-width="1.3"/>
<line x1="222.30" y1="63.57" x2="225.50" y2="63.57" stroke="#000" stroke-width="1.3"/>
<line x1="222.30" y1="25.50" x2="225.50" y2="25.50" stroke="#000" stroke-width="1.3"/>
<path d="M225.50 25.50H356.30V139.70H225.50Z" fill="none" stroke="#000" stroke-width="1.5"/>
<text x="219.60" y="152.30" font-size="8.3" text-anchor="start">10<tspan font-size="4.70" dy="-2.9">&#8722;2</tspan></text>
<text x="252.30" y="152.30" font-size="8.3" text-anchor="start">10<tspan font-size="4.70" dy="-2.9">&#8722;1</tspan></text>
<text x="287.70" y="152.30" font-size="8.3" text-anchor="start">10<tspan font-size="4.70" dy="-2.9">0</tspan></text>
<text x="320.40" y="152.30" font-size="8.3" text-anchor="start">10<tspan font-size="4.70" dy="-2.9">1</tspan></text>
<text x="353.10" y="152.30" font-size="8.3" text-anchor="start">10<tspan font-size="4.70" dy="-2.9">2</tspan></text>
<text x="220.00" y="142.30" font-size="8.3" text-anchor="end">10<tspan font-size="4.7" dy="-2.9">2</tspan></text>
<text x="220.00" y="104.23" font-size="8.3" text-anchor="end">10<tspan font-size="4.7" dy="-2.9">3</tspan></text>
<text x="220.00" y="66.17" font-size="8.3" text-anchor="end">10<tspan font-size="4.7" dy="-2.9">4</tspan></text>
<text x="220.00" y="28.10" font-size="8.3" text-anchor="end">10<tspan font-size="4.7" dy="-2.9">5</tspan></text>
<rect x="223.85" y="105.31" width="3.30" height="3.30" fill="#000"/>
<rect x="227.12" y="105.27" width="3.30" height="3.30" fill="#000"/>
<rect x="230.39" y="105.24" width="3.30" height="3.30" fill="#000"/>
<rect x="233.66" y="105.20" width="3.30" height="3.30" fill="#000"/>
<rect x="236.93" y="105.16" width="3.30" height="3.30" fill="#000"/>
<rect x="240.20" y="105.12" width="3.30" height="3.30" fill="#000"/>
<rect x="243.47" y="105.08" width="3.30" height="3.30" fill="#000"/>
<rect x="246.74" y="105.05" width="3.30" height="3.30" fill="#000"/>
<rect x="250.01" y="105.01" width="3.30" height="3.30" fill="#000"/>
<rect x="253.28" y="104.97" width="3.30" height="3.30" fill="#000"/>
<rect x="256.55" y="104.93" width="3.30" height="3.30" fill="#000"/>
<rect x="259.82" y="104.84" width="3.30" height="3.30" fill="#000"/>
<rect x="263.09" y="104.74" width="3.30" height="3.30" fill="#000"/>
<rect x="266.36" y="104.65" width="3.30" height="3.30" fill="#000"/>
<rect x="269.63" y="104.55" width="3.30" height="3.30" fill="#000"/>
<rect x="272.90" y="104.46" width="3.30" height="3.30" fill="#000"/>
<rect x="276.17" y="104.36" width="3.30" height="3.30" fill="#000"/>
<rect x="279.44" y="104.27" width="3.30" height="3.30" fill="#000"/>
<rect x="282.71" y="104.17" width="3.30" height="3.30" fill="#000"/>
<rect x="285.98" y="104.08" width="3.30" height="3.30" fill="#000"/>
<rect x="289.25" y="103.98" width="3.30" height="3.30" fill="#000"/>
<rect x="292.52" y="103.71" width="3.30" height="3.30" fill="#000"/>
<rect x="295.79" y="103.45" width="3.30" height="3.30" fill="#000"/>
<rect x="299.06" y="103.18" width="3.30" height="3.30" fill="#000"/>
<rect x="302.33" y="102.91" width="3.30" height="3.30" fill="#000"/>
<rect x="305.60" y="102.65" width="3.30" height="3.30" fill="#000"/>
<rect x="308.87" y="102.19" width="3.30" height="3.30" fill="#000"/>
<rect x="312.14" y="101.73" width="3.30" height="3.30" fill="#000"/>
<rect x="315.41" y="101.28" width="3.30" height="3.30" fill="#000"/>
<rect x="318.68" y="100.82" width="3.30" height="3.30" fill="#000"/>
<rect x="321.95" y="100.36" width="3.30" height="3.30" fill="#000"/>
<rect x="325.22" y="99.60" width="3.30" height="3.30" fill="#000"/>
<rect x="328.49" y="98.84" width="3.30" height="3.30" fill="#000"/>
<rect x="331.76" y="98.08" width="3.30" height="3.30" fill="#000"/>
<rect x="335.03" y="96.56" width="3.30" height="3.30" fill="#000"/>
<rect x="338.30" y="95.03" width="3.30" height="3.30" fill="#000"/>
<rect x="341.57" y="91.61" width="3.30" height="3.30" fill="#000"/>
<rect x="344.84" y="85.52" width="3.30" height="3.30" fill="#000"/>
<rect x="348.11" y="76.38" width="3.30" height="3.30" fill="#000"/>
<circle cx="225.50" cy="100.49" r="1.80" fill="#ff0000"/>
<circle cx="228.77" cy="100.42" r="1.80" fill="#ff0000"/>
<circle cx="232.04" cy="100.34" r="1.80" fill="#ff0000"/>
<circle cx="235.31" cy="100.26" r="1.80" fill="#ff0000"/>
<circle cx="238.58" cy="100.19" r="1.80" fill="#ff0000"/>
<circle cx="241.85" cy="100.11" r="1.80" fill="#ff0000"/>
<circle cx="245.12" cy="100.03" r="1.80" fill="#ff0000"/>
<circle cx="248.39" cy="99.96" r="1.80" fill="#ff0000"/>
<circle cx="251.66" cy="99.88" r="1.80" fill="#ff0000"/>
<circle cx="254.93" cy="99.81" r="1.80" fill="#ff0000"/>
<circle cx="258.20" cy="99.73" r="1.80" fill="#ff0000"/>
<circle cx="261.47" cy="99.62" r="1.80" fill="#ff0000"/>
<circle cx="264.74" cy="99.50" r="1.80" fill="#ff0000"/>
<circle cx="268.01" cy="99.39" r="1.80" fill="#ff0000"/>
<circle cx="271.28" cy="99.27" r="1.80" fill="#ff0000"/>
<circle cx="274.55" cy="99.16" r="1.80" fill="#ff0000"/>
<circle cx="277.82" cy="99.04" r="1.80" fill="#ff0000"/>
<circle cx="281.09" cy="98.93" r="1.80" fill="#ff0000"/>
<circle cx="284.36" cy="98.82" r="1.80" fill="#ff0000"/>
<circle cx="287.63" cy="98.70" r="1.80" fill="#ff0000"/>
<circle cx="290.90" cy="98.59" r="1.80" fill="#ff0000"/>
<circle cx="294.17" cy="98.44" r="1.80" fill="#ff0000"/>
<circle cx="297.44" cy="98.28" r="1.80" fill="#ff0000"/>
<circle cx="300.71" cy="98.13" r="1.80" fill="#ff0000"/>
<circle cx="303.98" cy="97.98" r="1.80" fill="#ff0000"/>
<circle cx="307.25" cy="97.83" r="1.80" fill="#ff0000"/>
<circle cx="310.52" cy="97.45" r="1.80" fill="#ff0000"/>
<circle cx="313.79" cy="97.07" r="1.80" fill="#ff0000"/>
<circle cx="317.06" cy="96.68" r="1.80" fill="#ff0000"/>
<circle cx="320.33" cy="96.30" r="1.80" fill="#ff0000"/>
<circle cx="323.60" cy="95.92" r="1.80" fill="#ff0000"/>
<circle cx="326.87" cy="95.29" r="1.80" fill="#ff0000"/>
<circle cx="330.14" cy="94.65" r="1.80" fill="#ff0000"/>
<circle cx="333.41" cy="94.02" r="1.80" fill="#ff0000"/>
<circle cx="336.68" cy="93.07" r="1.80" fill="#ff0000"/>
<circle cx="339.95" cy="92.12" r="1.80" fill="#ff0000"/>
<circle cx="343.22" cy="90.78" r="1.80" fill="#ff0000"/>
<circle cx="346.49" cy="89.45" r="1.80" fill="#ff0000"/>
<circle cx="349.76" cy="78.79" r="1.80" fill="#ff0000"/>
<circle cx="353.03" cy="70.04" r="1.80" fill="#ff0000"/>
<circle cx="355.32" cy="40.73" r="1.80" fill="#ff0000"/>
<path d="M225.50 91.31L227.60 94.82L223.40 94.82Z" fill="#00dd00"/>
<path d="M228.77 91.23L230.87 94.74L226.67 94.74Z" fill="#00dd00"/>
<path d="M232.04 91.16L234.14 94.67L229.94 94.67Z" fill="#00dd00"/>
<path d="M235.31 91.08L237.41 94.59L233.21 94.59Z" fill="#00dd00"/>
<path d="M238.58 91.00L240.68 94.51L236.48 94.51Z" fill="#00dd00"/>
<path d="M241.85 90.93L243.95 94.44L239.75 94.44Z" fill="#00dd00"/>
<path d="M245.12 90.85L247.22 94.36L243.02 94.36Z" fill="#00dd00"/>
<path d="M248.39 90.78L250.49 94.29L246.29 94.29Z" fill="#00dd00"/>
<path d="M251.66 90.70L253.76 94.21L249.56 94.21Z" fill="#00dd00"/>
<path d="M254.93 90.62L257.03 94.13L252.83 94.13Z" fill="#00dd00"/>
<path d="M258.20 90.55L260.30 94.06L256.10 94.06Z" fill="#00dd00"/>
<path d="M261.47 90.43L263.57 93.94L259.37 93.94Z" fill="#00dd00"/>
<path d="M264.74 90.32L266.84 93.83L262.64 93.83Z" fill="#00dd00"/>
<path d="M268.01 90.20L270.11 93.71L265.91 93.71Z" fill="#00dd00"/>
<path d="M271.28 90.09L273.38 93.60L269.18 93.60Z" fill="#00dd00"/>
<path d="M274.55 89.98L276.65 93.49L272.45 93.49Z" fill="#00dd00"/>
<path d="M277.82 89.86L279.92 93.37L275.72 93.37Z" fill="#00dd00"/>
<path d="M281.09 89.75L283.19 93.26L278.99 93.26Z" fill="#00dd00"/>
<path d="M284.36 89.63L286.46 93.14L282.26 93.14Z" fill="#00dd00"/>
<path d="M287.63 89.52L289.73 93.03L285.53 93.03Z" fill="#00dd00"/>
<path d="M290.90 89.41L293.00 92.92L288.80 92.92Z" fill="#00dd00"/>
<path d="M294.17 89.18L296.27 92.69L292.07 92.69Z" fill="#00dd00"/>
<path d="M297.44 88.95L299.54 92.46L295.34 92.46Z" fill="#00dd00"/>
<path d="M300.71 88.72L302.81 92.23L298.61 92.23Z" fill="#00dd00"/>
<path d="M303.98 88.49L306.08 92.00L301.88 92.00Z" fill="#00dd00"/>
<path d="M307.25 88.26L309.35 91.77L305.15 91.77Z" fill="#00dd00"/>
<path d="M310.52 87.88L312.62 91.39L308.42 91.39Z" fill="#00dd00"/>
<path d="M313.79 87.50L315.89 91.01L311.69 91.01Z" fill="#00dd00"/>
<path d="M317.06 87.12L319.16 90.63L314.96 90.63Z" fill="#00dd00"/>
<path d="M320.33 86.74L322.43 90.25L318.23 90.25Z" fill="#00dd00"/>
<path d="M323.60 86.36L325.70 89.87L321.50 89.87Z" fill="#00dd00"/>
<path d="M326.87 85.73L328.97 89.24L324.77 89.24Z" fill="#00dd00"/>
<path d="M330.14 85.09L332.24 88.60L328.04 88.60Z" fill="#00dd00"/>
<path d="M333.41 84.46L335.51 87.97L331.31 87.97Z" fill="#00dd00"/>
<path d="M336.68 83.50L338.78 87.01L334.58 87.01Z" fill="#00dd00"/>
<path d="M339.95 82.55L342.05 86.06L337.85 86.06Z" fill="#00dd00"/>
<path d="M343.22 81.22L345.32 84.73L341.12 84.73Z" fill="#00dd00"/>
<path d="M346.49 79.89L348.59 83.40L344.39 83.40Z" fill="#00dd00"/>
<path d="M349.76 71.13L351.86 74.64L347.66 74.64Z" fill="#00dd00"/>
<path d="M353.03 59.71L355.13 63.22L350.93 63.22Z" fill="#00dd00"/>
<path d="M355.32 36.49L357.42 40.00L353.22 40.00Z" fill="#00dd00"/>
<path d="M225.50 92.92L227.60 89.41L223.40 89.41Z" fill="#0000ff"/>
<path d="M228.77 92.85L230.87 89.34L226.67 89.34Z" fill="#0000ff"/>
<path d="M232.04 92.77L234.14 89.26L229.94 89.26Z" fill="#0000ff"/>
<path d="M235.31 92.70L237.41 89.19L233.21 89.19Z" fill="#0000ff"/>
<path d="M238.58 92.62L240.68 89.11L236.48 89.11Z" fill="#0000ff"/>
<path d="M241.85 92.54L243.95 89.03L239.75 89.03Z" fill="#0000ff"/>
<path d="M245.12 92.47L247.22 88.96L243.02 88.96Z" fill="#0000ff"/>
<path d="M248.39 92.39L250.49 88.88L246.29 88.88Z" fill="#0000ff"/>
<path d="M251.66 92.32L253.76 88.81L249.56 88.81Z" fill="#0000ff"/>
<path d="M254.93 92.24L257.03 88.73L252.83 88.73Z" fill="#0000ff"/>
<path d="M258.20 92.16L260.30 88.65L256.10 88.65Z" fill="#0000ff"/>
<path d="M261.47 92.05L263.57 88.54L259.37 88.54Z" fill="#0000ff"/>
<path d="M264.74 91.93L266.84 88.42L262.64 88.42Z" fill="#0000ff"/>
<path d="M268.01 91.82L270.11 88.31L265.91 88.31Z" fill="#0000ff"/>
<path d="M271.28 91.71L273.38 88.20L269.18 88.20Z" fill="#0000ff"/>
<path d="M274.55 91.59L276.65 88.08L272.45 88.08Z" fill="#0000ff"/>
<path d="M277.82 91.48L279.92 87.97L275.72 87.97Z" fill="#0000ff"/>
<path d="M281.09 91.36L283.19 87.85L278.99 87.85Z" fill="#0000ff"/>
<path d="M284.36 91.25L286.46 87.74L282.26 87.74Z" fill="#0000ff"/>
<path d="M287.63 91.14L289.73 87.63L285.53 87.63Z" fill="#0000ff"/>
<path d="M290.90 91.02L293.00 87.51L288.80 87.51Z" fill="#0000ff"/>
<path d="M294.17 90.79L296.27 87.28L292.07 87.28Z" fill="#0000ff"/>
<path d="M297.44 90.56L299.54 87.05L295.34 87.05Z" fill="#0000ff"/>
<path d="M300.71 90.34L302.81 86.83L298.61 86.83Z" fill="#0000ff"/>
<path d="M303.98 90.11L306.08 86.60L301.88 86.60Z" fill="#0000ff"/>
<path d="M307.25 89.88L309.35 86.37L305.15 86.37Z" fill="#0000ff"/>
<path d="M310.52 89.50L312.62 85.99L308.42 85.99Z" fill="#0000ff"/>
<path d="M313.79 89.12L315.89 85.61L311.69 85.61Z" fill="#0000ff"/>
<path d="M317.06 88.74L319.16 85.23L314.96 85.23Z" fill="#0000ff"/>
<path d="M320.33 88.36L322.43 84.85L318.23 84.85Z" fill="#0000ff"/>
<path d="M323.60 87.98L325.70 84.47L321.50 84.47Z" fill="#0000ff"/>
<path d="M326.87 87.34L328.97 83.83L324.77 83.83Z" fill="#0000ff"/>
<path d="M330.14 86.71L332.24 83.20L328.04 83.20Z" fill="#0000ff"/>
<path d="M333.41 86.07L335.51 82.56L331.31 82.56Z" fill="#0000ff"/>
<path d="M336.68 85.31L338.78 81.80L334.58 81.80Z" fill="#0000ff"/>
<path d="M339.95 84.55L342.05 81.04L337.85 81.04Z" fill="#0000ff"/>
<path d="M343.22 83.22L345.32 79.71L341.12 79.71Z" fill="#0000ff"/>
<path d="M346.49 81.89L348.59 78.38L344.39 78.38Z" fill="#0000ff"/>
<path d="M349.76 74.65L351.86 71.14L347.66 71.14Z" fill="#0000ff"/>
<path d="M353.03 62.85L355.13 59.34L350.93 59.34Z" fill="#0000ff"/>
<path d="M355.32 38.87L357.42 35.36L353.22 35.36Z" fill="#0000ff"/>
<rect x="239.40" y="30.65" width="3.70" height="3.70" fill="#000"/>
<text x="245.90" y="34.60" font-size="7.45">PAAm</text>
<circle cx="241.25" cy="43.10" r="2.02" fill="#ff0000"/>
<text x="245.90" y="45.20" font-size="7.45">CMC/PAAm</text>
<path d="M241.25 50.52L243.60 54.45L238.90 54.45Z" fill="#00dd00"/>
<text x="245.90" y="54.80" font-size="7.45">Alg/PAAm</text>
<path d="M241.25 65.68L243.60 61.75L238.90 61.75Z" fill="#0000ff"/>
<text x="245.90" y="65.60" font-size="7.45">Alg/CMC/PAAm</text>
<text x="251.80" y="74.00" font-size="7.45">(The STICH)</text>
<text transform="translate(198.80,78.50) rotate(-90)" font-size="8.6" text-anchor="middle">Storage modulus, G' (Pa)</text>
<text x="290.90" y="166.4" font-size="9.9" text-anchor="middle">Frequency (Hz)</text>
</g>
<g id="pc">
<line x1="417.04" y1="139.80" x2="417.04" y2="141.60" stroke="#000" stroke-width="0.8"/>
<line x1="422.79" y1="139.80" x2="422.79" y2="141.60" stroke="#000" stroke-width="0.8"/>
<line x1="426.87" y1="139.80" x2="426.87" y2="141.60" stroke="#000" stroke-width="0.8"/>
<line x1="430.04" y1="139.80" x2="430.04" y2="141.60" stroke="#000" stroke-width="0.8"/>
<line x1="432.63" y1="139.80" x2="432.63" y2="141.60" stroke="#000" stroke-width="0.8"/>
<line x1="434.81" y1="139.80" x2="434.81" y2="141.60" stroke="#000" stroke-width="0.8"/>
<line x1="436.71" y1="139.80" x2="436.71" y2="141.60" stroke="#000" stroke-width="0.8"/>
<line x1="438.38" y1="139.80" x2="438.38" y2="141.60" stroke="#000" stroke-width="0.8"/>
<line x1="449.71" y1="139.80" x2="449.71" y2="141.60" stroke="#000" stroke-width="0.8"/>
<line x1="455.46" y1="139.80" x2="455.46" y2="141.60" stroke="#000" stroke-width="0.8"/>
<line x1="459.55" y1="139.80" x2="459.55" y2="141.60" stroke="#000" stroke-width="0.8"/>
<line x1="462.71" y1="139.80" x2="462.71" y2="141.60" stroke="#000" stroke-width="0.8"/>
<line x1="465.30" y1="139.80" x2="465.30" y2="141.60" stroke="#000" stroke-width="0.8"/>
<line x1="467.49" y1="139.80" x2="467.49" y2="141.60" stroke="#000" stroke-width="0.8"/>
<line x1="469.38" y1="139.80" x2="469.38" y2="141.60" stroke="#000" stroke-width="0.8"/>
<line x1="471.05" y1="139.80" x2="471.05" y2="141.60" stroke="#000" stroke-width="0.8"/>
<line x1="482.39" y1="139.80" x2="482.39" y2="141.60" stroke="#000" stroke-width="0.8"/>
<line x1="488.14" y1="139.80" x2="488.14" y2="141.60" stroke="#000" stroke-width="0.8"/>
<line x1="492.22" y1="139.80" x2="492.22" y2="141.60" stroke="#000" stroke-width="0.8"/>
<line x1="495.39" y1="139.80" x2="495.39" y2="141.60" stroke="#000" stroke-width="0.8"/>
<line x1="497.98" y1="139.80" x2="497.98" y2="141.60" stroke="#000" stroke-width="0.8"/>
<line x1="500.16" y1="139.80" x2="500.16" y2="141.60" stroke="#000" stroke-width="0.8"/>
<line x1="502.06" y1="139.80" x2="502.06" y2="141.60" stroke="#000" stroke-width="0.8"/>
<line x1="503.73" y1="139.80" x2="503.73" y2="141.60" stroke="#000" stroke-width="0.8"/>
<line x1="515.06" y1="139.80" x2="515.06" y2="141.60" stroke="#000" stroke-width="0.8"/>
<line x1="520.81" y1="139.80" x2="520.81" y2="141.60" stroke="#000" stroke-width="0.8"/>
<line x1="524.90" y1="139.80" x2="524.90" y2="141.60" stroke="#000" stroke-width="0.8"/>
<line x1="528.06" y1="139.80" x2="528.06" y2="141.60" stroke="#000" stroke-width="0.8"/>
<line x1="530.65" y1="139.80" x2="530.65" y2="141.60" stroke="#000" stroke-width="0.8"/>
<line x1="532.84" y1="139.80" x2="532.84" y2="141.60" stroke="#000" stroke-width="0.8"/>
<line x1="534.73" y1="139.80" x2="534.73" y2="141.60" stroke="#000" stroke-width="0.8"/>
<line x1="536.40" y1="139.80" x2="536.40" y2="141.60" stroke="#000" stroke-width="0.8"/>
<line x1="407.20" y1="139.80" x2="407.20" y2="143.00" stroke="#000" stroke-width="1.3"/>
<line x1="439.88" y1="139.80" x2="439.88" y2="143.00" stroke="#000" stroke-width="1.3"/>
<line x1="472.55" y1="139.80" x2="472.55" y2="143.00" stroke="#000" stroke-width="1.3"/>
<line x1="505.22" y1="139.80" x2="505.22" y2="143.00" stroke="#000" stroke-width="1.3"/>
<line x1="537.90" y1="139.80" x2="537.90" y2="143.00" stroke="#000" stroke-width="1.3"/>
<line x1="405.40" y1="122.60" x2="407.20" y2="122.60" stroke="#000" stroke-width="0.8"/>
<line x1="405.40" y1="112.53" x2="407.20" y2="112.53" stroke="#000" stroke-width="0.8"/>
<line x1="405.40" y1="105.39" x2="407.20" y2="105.39" stroke="#000" stroke-width="0.8"/>
<line x1="405.40" y1="99.85" x2="407.20" y2="99.85" stroke="#000" stroke-width="0.8"/>
<line x1="405.40" y1="95.33" x2="407.20" y2="95.33" stroke="#000" stroke-width="0.8"/>
<line x1="405.40" y1="91.50" x2="407.20" y2="91.50" stroke="#000" stroke-width="0.8"/>
<line x1="405.40" y1="88.19" x2="407.20" y2="88.19" stroke="#000" stroke-width="0.8"/>
<line x1="405.40" y1="85.27" x2="407.20" y2="85.27" stroke="#000" stroke-width="0.8"/>
<line x1="405.40" y1="65.45" x2="407.20" y2="65.45" stroke="#000" stroke-width="0.8"/>
<line x1="405.40" y1="55.38" x2="407.20" y2="55.38" stroke="#000" stroke-width="0.8"/>
<line x1="405.40" y1="48.24" x2="407.20" y2="48.24" stroke="#000" stroke-width="0.8"/>
<line x1="405.40" y1="42.70" x2="407.20" y2="42.70" stroke="#000" stroke-width="0.8"/>
<line x1="405.40" y1="38.18" x2="407.20" y2="38.18" stroke="#000" stroke-width="0.8"/>
<line x1="405.40" y1="34.35" x2="407.20" y2="34.35" stroke="#000" stroke-width="0.8"/>
<line x1="405.40" y1="31.04" x2="407.20" y2="31.04" stroke="#000" stroke-width="0.8"/>
<line x1="405.40" y1="28.12" x2="407.20" y2="28.12" stroke="#000" stroke-width="0.8"/>
<line x1="404.00" y1="139.80" x2="407.20" y2="139.80" stroke="#000" stroke-width="1.3"/>
<line x1="404.00" y1="82.65" x2="407.20" y2="82.65" stroke="#000" stroke-width="1.3"/>
<line x1="404.00" y1="25.50" x2="407.20" y2="25.50" stroke="#000" stroke-width="1.3"/>
<path d="M407.20 25.50H537.90V139.80H407.20Z" fill="none" stroke="#000" stroke-width="1.5"/>
<text x="401.30" y="152.40" font-size="8.3" text-anchor="start">10<tspan font-size="4.70" dy="-2.9">&#8722;2</tspan></text>
<text x="433.98" y="152.40" font-size="8.3" text-anchor="start">10<tspan font-size="4.70" dy="-2.9">&#8722;1</tspan></text>
<text x="469.35" y="152.40" font-size="8.3" text-anchor="start">10<tspan font-size="4.70" dy="-2.9">0</tspan></text>
<text x="502.02" y="152.40" font-size="8.3" text-anchor="start">10<tspan font-size="4.70" dy="-2.9">1</tspan></text>
<text x="534.70" y="152.40" font-size="8.3" text-anchor="start">10<tspan font-size="4.70" dy="-2.9">2</tspan></text>
<text x="401.60" y="142.40" font-size="8.3" text-anchor="end">10<tspan font-size="4.7" dy="-2.9">1</tspan></text>
<text x="401.60" y="85.25" font-size="8.3" text-anchor="end">10<tspan font-size="4.7" dy="-2.9">2</tspan></text>
<text x="401.60" y="28.10" font-size="8.3" text-anchor="end">10<tspan font-size="4.7" dy="-2.9">3</tspan></text>
<rect x="405.55" y="117.45" width="3.30" height="3.30" fill="#000"/>
<rect x="408.82" y="117.86" width="3.30" height="3.30" fill="#000"/>
<rect x="412.09" y="117.06" width="3.30" height="3.30" fill="#000"/>
<rect x="415.36" y="117.95" width="3.30" height="3.30" fill="#000"/>
<rect x="418.63" y="118.51" width="3.30" height="3.30" fill="#000"/>
<rect x="421.90" y="118.91" width="3.30" height="3.30" fill="#000"/>
<rect x="425.17" y="119.66" width="3.30" height="3.30" fill="#000"/>
<rect x="428.44" y="121.20" width="3.30" height="3.30" fill="#000"/>
<rect x="431.71" y="117.45" width="3.30" height="3.30" fill="#000"/>
<rect x="434.98" y="117.19" width="3.30" height="3.30" fill="#000"/>
<rect x="438.25" y="116.76" width="3.30" height="3.30" fill="#000"/>
<rect x="441.52" y="116.11" width="3.30" height="3.30" fill="#000"/>
<rect x="444.79" y="114.83" width="3.30" height="3.30" fill="#000"/>
<rect x="448.06" y="111.31" width="3.30" height="3.30" fill="#000"/>
<rect x="451.33" y="112.11" width="3.30" height="3.30" fill="#000"/>
<rect x="454.60" y="112.17" width="3.30" height="3.30" fill="#000"/>
<rect x="457.87" y="110.61" width="3.30" height="3.30" fill="#000"/>
<rect x="461.14" y="108.50" width="3.30" height="3.30" fill="#000"/>
<rect x="464.41" y="106.82" width="3.30" height="3.30" fill="#000"/>
<rect x="467.68" y="105.70" width="3.30" height="3.30" fill="#000"/>
<rect x="470.95" y="104.55" width="3.30" height="3.30" fill="#000"/>
<rect x="474.22" y="103.22" width="3.30" height="3.30" fill="#000"/>
<rect x="477.49" y="101.42" width="3.30" height="3.30" fill="#000"/>
<rect x="480.76" y="99.63" width="3.30" height="3.30" fill="#000"/>
<rect x="484.03" y="97.84" width="3.30" height="3.30" fill="#000"/>
<rect x="487.30" y="96.04" width="3.30" height="3.30" fill="#000"/>
<rect x="490.57" y="94.25" width="3.30" height="3.30" fill="#000"/>
<rect x="493.84" y="91.82" width="3.30" height="3.30" fill="#000"/>
<rect x="497.11" y="89.36" width="3.30" height="3.30" fill="#000"/>
<rect x="500.38" y="86.90" width="3.30" height="3.30" fill="#000"/>
<rect x="503.65" y="84.65" width="3.30" height="3.30" fill="#000"/>
<rect x="506.92" y="82.05" width="3.30" height="3.30" fill="#000"/>
<rect x="510.19" y="78.85" width="3.30" height="3.30" fill="#000"/>
<rect x="513.46" y="75.05" width="3.30" height="3.30" fill="#000"/>
<rect x="516.73" y="69.45" width="3.30" height="3.30" fill="#000"/>
<rect x="520.00" y="68.95" width="3.30" height="3.30" fill="#000"/>
<rect x="523.27" y="70.65" width="3.30" height="3.30" fill="#000"/>
<rect x="526.54" y="80.65" width="3.30" height="3.30" fill="#000"/>
<circle cx="407.20" cy="119.10" r="1.80" fill="#ff0000"/>
<circle cx="410.47" cy="118.48" r="1.80" fill="#ff0000"/>
<circle cx="413.74" cy="117.67" r="1.80" fill="#ff0000"/>
<circle cx="417.01" cy="115.03" r="1.80" fill="#ff0000"/>
<circle cx="420.28" cy="118.96" r="1.80" fill="#ff0000"/>
<circle cx="423.55" cy="113.80" r="1.80" fill="#ff0000"/>
<circle cx="426.82" cy="111.90" r="1.80" fill="#ff0000"/>
<circle cx="430.09" cy="112.54" r="1.80" fill="#ff0000"/>
<circle cx="433.36" cy="110.22" r="1.80" fill="#ff0000"/>
<circle cx="436.63" cy="109.28" r="1.80" fill="#ff0000"/>
<circle cx="439.90" cy="108.25" r="1.80" fill="#ff0000"/>
<circle cx="443.17" cy="106.67" r="1.80" fill="#ff0000"/>
<circle cx="446.44" cy="105.53" r="1.80" fill="#ff0000"/>
<circle cx="449.71" cy="103.20" r="1.80" fill="#ff0000"/>
<circle cx="452.98" cy="101.01" r="1.80" fill="#ff0000"/>
<circle cx="456.25" cy="99.01" r="1.80" fill="#ff0000"/>
<circle cx="459.52" cy="97.31" r="1.80" fill="#ff0000"/>
<circle cx="462.79" cy="95.34" r="1.80" fill="#ff0000"/>
<circle cx="466.06" cy="93.17" r="1.80" fill="#ff0000"/>
<circle cx="469.33" cy="91.55" r="1.80" fill="#ff0000"/>
<circle cx="472.60" cy="89.94" r="1.80" fill="#ff0000"/>
<circle cx="475.87" cy="88.27" r="1.80" fill="#ff0000"/>
<circle cx="479.14" cy="86.47" r="1.80" fill="#ff0000"/>
<circle cx="482.41" cy="84.68" r="1.80" fill="#ff0000"/>
<circle cx="485.68" cy="82.89" r="1.80" fill="#ff0000"/>
<circle cx="488.95" cy="81.09" r="1.80" fill="#ff0000"/>
<circle cx="492.22" cy="79.30" r="1.80" fill="#ff0000"/>
<circle cx="495.49" cy="77.19" r="1.80" fill="#ff0000"/>
<circle cx="498.76" cy="75.07" r="1.80" fill="#ff0000"/>
<circle cx="502.03" cy="72.95" r="1.80" fill="#ff0000"/>
<circle cx="505.30" cy="70.82" r="1.80" fill="#ff0000"/>
<circle cx="508.57" cy="68.70" r="1.80" fill="#ff0000"/>
<circle cx="511.84" cy="66.03" r="1.80" fill="#ff0000"/>
<circle cx="515.11" cy="62.70" r="1.80" fill="#ff0000"/>
<circle cx="518.38" cy="58.30" r="1.80" fill="#ff0000"/>
<circle cx="521.65" cy="57.50" r="1.80" fill="#ff0000"/>
<circle cx="524.92" cy="57.50" r="1.80" fill="#ff0000"/>
<circle cx="528.19" cy="61.80" r="1.80" fill="#ff0000"/>
<path d="M407.20 107.05L409.30 110.56L405.10 110.56Z" fill="#00dd00"/>
<path d="M410.47 105.69L412.57 109.20L408.37 109.20Z" fill="#00dd00"/>
<path d="M413.74 105.20L415.84 108.71L411.64 108.71Z" fill="#00dd00"/>
<path d="M417.01 105.31L419.11 108.82L414.91 108.82Z" fill="#00dd00"/>
<path d="M420.28 108.82L422.38 112.33L418.18 112.33Z" fill="#00dd00"/>
<path d="M423.55 107.44L425.65 110.95L421.45 110.95Z" fill="#00dd00"/>
<path d="M426.82 106.06L428.92 109.57L424.72 109.57Z" fill="#00dd00"/>
<path d="M430.09 104.28L432.19 107.79L427.99 107.79Z" fill="#00dd00"/>
<path d="M433.36 99.50L435.46 103.01L431.26 103.01Z" fill="#00dd00"/>
<path d="M436.63 95.48L438.73 98.99L434.53 98.99Z" fill="#00dd00"/>
<path d="M439.90 96.47L442.00 99.98L437.80 99.98Z" fill="#00dd00"/>
<path d="M443.17 97.45L445.27 100.96L441.07 100.96Z" fill="#00dd00"/>
<path d="M446.44 96.21L448.54 99.72L444.34 99.72Z" fill="#00dd00"/>
<path d="M449.71 94.71L451.81 98.22L447.61 98.22Z" fill="#00dd00"/>
<path d="M452.98 93.14L455.08 96.65L450.88 96.65Z" fill="#00dd00"/>
<path d="M456.25 88.59L458.35 92.10L454.15 92.10Z" fill="#00dd00"/>
<path d="M459.52 86.04L461.62 89.55L457.42 89.55Z" fill="#00dd00"/>
<path d="M462.79 84.72L464.89 88.23L460.69 88.23Z" fill="#00dd00"/>
<path d="M466.06 83.41L468.16 86.92L463.96 86.92Z" fill="#00dd00"/>
<path d="M469.33 82.09L471.43 85.60L467.23 85.60Z" fill="#00dd00"/>
<path d="M472.60 80.78L474.70 84.29L470.50 84.29Z" fill="#00dd00"/>
<path d="M475.87 79.32L477.97 82.83L473.77 82.83Z" fill="#00dd00"/>
<path d="M479.14 77.52L481.24 81.03L477.04 81.03Z" fill="#00dd00"/>
<path d="M482.41 75.73L484.51 79.24L480.31 79.24Z" fill="#00dd00"/>
<path d="M485.68 73.94L487.78 77.45L483.58 77.45Z" fill="#00dd00"/>
<path d="M488.95 72.14L491.05 75.65L486.85 75.65Z" fill="#00dd00"/>
<path d="M492.22 70.35L494.32 73.86L490.12 73.86Z" fill="#00dd00"/>
<path d="M495.49 68.70L497.59 72.21L493.39 72.21Z" fill="#00dd00"/>
<path d="M498.76 67.07L500.86 70.58L496.66 70.58Z" fill="#00dd00"/>
<path d="M502.03 65.44L504.13 68.95L499.93 68.95Z" fill="#00dd00"/>
<path d="M505.30 63.80L507.40 67.31L503.20 67.31Z" fill="#00dd00"/>
<path d="M508.57 62.17L510.67 65.68L506.47 65.68Z" fill="#00dd00"/>
<path d="M511.84 59.22L513.94 62.73L509.74 62.73Z" fill="#00dd00"/>
<path d="M515.11 55.47L517.21 58.98L513.01 58.98Z" fill="#00dd00"/>
<path d="M518.38 51.65L520.48 55.16L516.28 55.16Z" fill="#00dd00"/>
<path d="M521.65 50.65L523.75 54.16L519.55 54.16Z" fill="#00dd00"/>
<path d="M524.92 51.15L527.02 54.66L522.82 54.66Z" fill="#00dd00"/>
<path d="M528.19 54.05L530.29 57.56L526.09 57.56Z" fill="#00dd00"/>
<path d="M407.20 113.05L409.30 109.54L405.10 109.54Z" fill="#0000ff"/>
<path d="M410.47 114.41L412.57 110.90L408.37 110.90Z" fill="#0000ff"/>
<path d="M413.74 109.57L415.84 106.06L411.64 106.06Z" fill="#0000ff"/>
<path d="M417.01 112.64L419.11 109.13L414.91 109.13Z" fill="#0000ff"/>
<path d="M420.28 109.37L422.38 105.86L418.18 105.86Z" fill="#0000ff"/>
<path d="M423.55 106.55L425.65 103.04L421.45 103.04Z" fill="#0000ff"/>
<path d="M426.82 106.53L428.92 103.02L424.72 103.02Z" fill="#0000ff"/>
<path d="M430.09 103.53L432.19 100.02L427.99 100.02Z" fill="#0000ff"/>
<path d="M433.36 103.00L435.46 99.49L431.26 99.49Z" fill="#0000ff"/>
<path d="M436.63 101.45L438.73 97.94L434.53 97.94Z" fill="#0000ff"/>
<path d="M439.90 99.65L442.00 96.14L437.80 96.14Z" fill="#0000ff"/>
<path d="M443.17 98.02L445.27 94.51L441.07 94.51Z" fill="#0000ff"/>
<path d="M446.44 96.99L448.54 93.48L444.34 93.48Z" fill="#0000ff"/>
<path d="M449.71 95.24L451.81 91.73L447.61 91.73Z" fill="#0000ff"/>
<path d="M452.98 92.07L455.08 88.56L450.88 88.56Z" fill="#0000ff"/>
<path d="M456.25 91.53L458.35 88.02L454.15 88.02Z" fill="#0000ff"/>
<path d="M459.52 90.54L461.62 87.03L457.42 87.03Z" fill="#0000ff"/>
<path d="M462.79 88.54L464.89 85.03L460.69 85.03Z" fill="#0000ff"/>
<path d="M466.06 86.55L468.16 83.04L463.96 83.04Z" fill="#0000ff"/>
<path d="M469.33 84.55L471.43 81.04L467.23 81.04Z" fill="#0000ff"/>
<path d="M472.60 82.55L474.70 79.04L470.50 79.04Z" fill="#0000ff"/>
<path d="M475.87 80.62L477.97 77.11L473.77 77.11Z" fill="#0000ff"/>
<path d="M479.14 78.82L481.24 75.31L477.04 75.31Z" fill="#0000ff"/>
<path d="M482.41 77.03L484.51 73.52L480.31 73.52Z" fill="#0000ff"/>
<path d="M485.68 75.24L487.78 71.73L483.58 71.73Z" fill="#0000ff"/>
<path d="M488.95 73.44L491.05 69.93L486.85 69.93Z" fill="#0000ff"/>
<path d="M492.22 71.65L494.32 68.14L490.12 68.14Z" fill="#0000ff"/>
<path d="M495.49 69.85L497.59 66.34L493.39 66.34Z" fill="#0000ff"/>
<path d="M498.76 68.04L500.86 64.53L496.66 64.53Z" fill="#0000ff"/>
<path d="M502.03 66.24L504.13 62.73L499.93 62.73Z" fill="#0000ff"/>
<path d="M505.30 64.43L507.40 60.92L503.20 60.92Z" fill="#0000ff"/>
<path d="M508.57 62.63L510.67 59.12L506.47 59.12Z" fill="#0000ff"/>
<path d="M511.84 59.77L513.94 56.26L509.74 56.26Z" fill="#0000ff"/>
<path d="M515.11 56.27L517.21 52.76L513.01 52.76Z" fill="#0000ff"/>
<path d="M518.38 53.85L520.48 50.34L516.28 50.34Z" fill="#0000ff"/>
<path d="M521.65 50.35L523.75 46.84L519.55 46.84Z" fill="#0000ff"/>
<path d="M524.92 51.05L527.02 47.54L522.82 47.54Z" fill="#0000ff"/>
<path d="M528.19 58.55L530.29 55.04L526.09 55.04Z" fill="#0000ff"/>
<rect x="418.55" y="30.95" width="3.70" height="3.70" fill="#000"/>
<text x="423.60" y="34.90" font-size="7.45">PAAm</text>
<circle cx="420.40" cy="43.40" r="2.02" fill="#ff0000"/>
<text x="423.60" y="45.50" font-size="7.45">CMC/PAAm</text>
<path d="M420.40 50.82L422.75 54.75L418.05 54.75Z" fill="#00dd00"/>
<text x="423.60" y="55.10" font-size="7.45">Alg/PAAm</text>
<path d="M420.40 65.98L422.75 62.05L418.05 62.05Z" fill="#0000ff"/>
<text x="423.60" y="65.90" font-size="7.45">Alg/CMC/PAAm</text>
<text x="427.60" y="74.30" font-size="7.45">(The STICH)</text>
<text transform="translate(381.50,80.20) rotate(-90)" font-size="8.6" text-anchor="middle">Loss modulus, G'' (Pa)</text>
<text x="472.55" y="166.4" font-size="9.9" text-anchor="middle">Frequency (Hz)</text>
</g>
<g id="pd">
<line x1="52.11" y1="312.60" x2="52.11" y2="314.40" stroke="#000" stroke-width="0.8"/>
<line x1="57.84" y1="312.60" x2="57.84" y2="314.40" stroke="#000" stroke-width="0.8"/>
<line x1="61.91" y1="312.60" x2="61.91" y2="314.40" stroke="#000" stroke-width="0.8"/>
<line x1="65.07" y1="312.60" x2="65.07" y2="314.40" stroke="#000" stroke-width="0.8"/>
<line x1="67.65" y1="312.60" x2="67.65" y2="314.40" stroke="#000" stroke-width="0.8"/>
<line x1="69.83" y1="312.60" x2="69.83" y2="314.40" stroke="#000" stroke-width="0.8"/>
<line x1="71.72" y1="312.60" x2="71.72" y2="314.40" stroke="#000" stroke-width="0.8"/>
<line x1="73.38" y1="312.60" x2="73.38" y2="314.40" stroke="#000" stroke-width="0.8"/>
<line x1="84.68" y1="312.60" x2="84.68" y2="314.40" stroke="#000" stroke-width="0.8"/>
<line x1="90.42" y1="312.60" x2="90.42" y2="314.40" stroke="#000" stroke-width="0.8"/>
<line x1="94.49" y1="312.60" x2="94.49" y2="314.40" stroke="#000" stroke-width="0.8"/>
<line x1="97.64" y1="312.60" x2="97.64" y2="314.40" stroke="#000" stroke-width="0.8"/>
<line x1="100.22" y1="312.60" x2="100.22" y2="314.40" stroke="#000" stroke-width="0.8"/>
<line x1="102.40" y1="312.60" x2="102.40" y2="314.40" stroke="#000" stroke-width="0.8"/>
<line x1="104.29" y1="312.60" x2="104.29" y2="314.40" stroke="#000" stroke-width="0.8"/>
<line x1="105.96" y1="312.60" x2="105.96" y2="314.40" stroke="#000" stroke-width="0.8"/>
<line x1="117.26" y1="312.60" x2="117.26" y2="314.40" stroke="#000" stroke-width="0.8"/>
<line x1="122.99" y1="312.60" x2="122.99" y2="314.40" stroke="#000" stroke-width="0.8"/>
<line x1="127.06" y1="312.60" x2="127.06" y2="314.40" stroke="#000" stroke-width="0.8"/>
<line x1="130.22" y1="312.60" x2="130.22" y2="314.40" stroke="#000" stroke-width="0.8"/>
<line x1="132.80" y1="312.60" x2="132.80" y2="314.40" stroke="#000" stroke-width="0.8"/>
<line x1="134.98" y1="312.60" x2="134.98" y2="314.40" stroke="#000" stroke-width="0.8"/>
<line x1="136.87" y1="312.60" x2="136.87" y2="314.40" stroke="#000" stroke-width="0.8"/>
<line x1="138.53" y1="312.60" x2="138.53" y2="314.40" stroke="#000" stroke-width="0.8"/>
<line x1="149.83" y1="312.60" x2="149.83" y2="314.40" stroke="#000" stroke-width="0.8"/>
<line x1="155.57" y1="312.60" x2="155.57" y2="314.40" stroke="#000" stroke-width="0.8"/>
<line x1="159.64" y1="312.60" x2="159.64" y2="314.40" stroke="#000" stroke-width="0.8"/>
<line x1="162.79" y1="312.60" x2="162.79" y2="314.40" stroke="#000" stroke-width="0.8"/>
<line x1="165.37" y1="312.60" x2="165.37" y2="314.40" stroke="#000" stroke-width="0.8"/>
<line x1="167.55" y1="312.60" x2="167.55" y2="314.40" stroke="#000" stroke-width="0.8"/>
<line x1="169.44" y1="312.60" x2="169.44" y2="314.40" stroke="#000" stroke-width="0.8"/>
<line x1="171.11" y1="312.60" x2="171.11" y2="314.40" stroke="#000" stroke-width="0.8"/>
<line x1="42.30" y1="312.60" x2="42.30" y2="315.80" stroke="#000" stroke-width="1.3"/>
<line x1="74.88" y1="312.60" x2="74.88" y2="315.80" stroke="#000" stroke-width="1.3"/>
<line x1="107.45" y1="312.60" x2="107.45" y2="315.80" stroke="#000" stroke-width="1.3"/>
<line x1="140.03" y1="312.60" x2="140.03" y2="315.80" stroke="#000" stroke-width="1.3"/>
<line x1="172.60" y1="312.60" x2="172.60" y2="315.80" stroke="#000" stroke-width="1.3"/>
<line x1="40.50" y1="304.58" x2="42.30" y2="304.58" stroke="#000" stroke-width="0.8"/>
<line x1="40.50" y1="299.89" x2="42.30" y2="299.89" stroke="#000" stroke-width="0.8"/>
<line x1="40.50" y1="296.56" x2="42.30" y2="296.56" stroke="#000" stroke-width="0.8"/>
<line x1="40.50" y1="293.98" x2="42.30" y2="293.98" stroke="#000" stroke-width="0.8"/>
<line x1="40.50" y1="291.87" x2="42.30" y2="291.87" stroke="#000" stroke-width="0.8"/>
<line x1="40.50" y1="290.08" x2="42.30" y2="290.08" stroke="#000" stroke-width="0.8"/>
<line x1="40.50" y1="288.54" x2="42.30" y2="288.54" stroke="#000" stroke-width="0.8"/>
<line x1="40.50" y1="287.17" x2="42.30" y2="287.17" stroke="#000" stroke-width="0.8"/>
<line x1="40.50" y1="277.93" x2="42.30" y2="277.93" stroke="#000" stroke-width="0.8"/>
<line x1="40.50" y1="273.24" x2="42.30" y2="273.24" stroke="#000" stroke-width="0.8"/>
<line x1="40.50" y1="269.91" x2="42.30" y2="269.91" stroke="#000" stroke-width="0.8"/>
<line x1="40.50" y1="267.33" x2="42.30" y2="267.33" stroke="#000" stroke-width="0.8"/>
<line x1="40.50" y1="265.22" x2="42.30" y2="265.22" stroke="#000" stroke-width="0.8"/>
<line x1="40.50" y1="263.44" x2="42.30" y2="263.44" stroke="#000" stroke-width="0.8"/>
<line x1="40.50" y1="261.89" x2="42.30" y2="261.89" stroke="#000" stroke-width="0.8"/>
<line x1="40.50" y1="260.53" x2="42.30" y2="260.53" stroke="#000" stroke-width="0.8"/>
<line x1="40.50" y1="251.29" x2="42.30" y2="251.29" stroke="#000" stroke-width="0.8"/>
<line x1="40.50" y1="246.60" x2="42.30" y2="246.60" stroke="#000" stroke-width="0.8"/>
<line x1="40.50" y1="243.27" x2="42.30" y2="243.27" stroke="#000" stroke-width="0.8"/>
<line x1="40.50" y1="240.69" x2="42.30" y2="240.69" stroke="#000" stroke-width="0.8"/>
<line x1="40.50" y1="238.58" x2="42.30" y2="238.58" stroke="#000" stroke-width="0.8"/>
<line x1="40.50" y1="236.79" x2="42.30" y2="236.79" stroke="#000" stroke-width="0.8"/>
<line x1="40.50" y1="235.25" x2="42.30" y2="235.25" stroke="#000" stroke-width="0.8"/>
<line x1="40.50" y1="233.88" x2="42.30" y2="233.88" stroke="#000" stroke-width="0.8"/>
<line x1="40.50" y1="224.64" x2="42.30" y2="224.64" stroke="#000" stroke-width="0.8"/>
<line x1="40.50" y1="219.95" x2="42.30" y2="219.95" stroke="#000" stroke-width="0.8"/>
<line x1="40.50" y1="216.62" x2="42.30" y2="216.62" stroke="#000" stroke-width="0.8"/>
<line x1="40.50" y1="214.04" x2="42.30" y2="214.04" stroke="#000" stroke-width="0.8"/>
<line x1="40.50" y1="211.93" x2="42.30" y2="211.93" stroke="#000" stroke-width="0.8"/>
<line x1="40.50" y1="210.15" x2="42.30" y2="210.15" stroke="#000" stroke-width="0.8"/>
<line x1="40.50" y1="208.60" x2="42.30" y2="208.60" stroke="#000" stroke-width="0.8"/>
<line x1="40.50" y1="207.24" x2="42.30" y2="207.24" stroke="#000" stroke-width="0.8"/>
<line x1="39.10" y1="312.60" x2="42.30" y2="312.60" stroke="#000" stroke-width="1.3"/>
<line x1="39.10" y1="285.96" x2="42.30" y2="285.96" stroke="#000" stroke-width="1.3"/>
<line x1="39.10" y1="259.31" x2="42.30" y2="259.31" stroke="#000" stroke-width="1.3"/>
<line x1="39.10" y1="232.67" x2="42.30" y2="232.67" stroke="#000" stroke-width="1.3"/>
<line x1="39.10" y1="206.02" x2="42.30" y2="206.02" stroke="#000" stroke-width="1.3"/>
<path d="M42.30 198.00H172.60V312.60H42.30Z" fill="none" stroke="#000" stroke-width="1.5"/>
<text x="36.40" y="325.20" font-size="8.3" text-anchor="start">10<tspan font-size="4.70" dy="-2.9">&#8722;2</tspan></text>
<text x="68.97" y="325.20" font-size="8.3" text-anchor="start">10<tspan font-size="4.70" dy="-2.9">&#8722;1</tspan></text>
<text x="104.25" y="325.20" font-size="8.3" text-anchor="start">10<tspan font-size="4.70" dy="-2.9">0</tspan></text>
<text x="136.83" y="325.20" font-size="8.3" text-anchor="start">10<tspan font-size="4.70" dy="-2.9">1</tspan></text>
<text x="169.40" y="325.20" font-size="8.3" text-anchor="start">10<tspan font-size="4.70" dy="-2.9">2</tspan></text>
<text x="37.50" y="315.20" font-size="8.3" text-anchor="end">10<tspan font-size="4.7" dy="-2.9">5</tspan></text>
<text x="37.50" y="288.56" font-size="8.3" text-anchor="end">10<tspan font-size="4.7" dy="-2.9">6</tspan></text>
<text x="37.50" y="261.91" font-size="8.3" text-anchor="end">10<tspan font-size="4.7" dy="-2.9">7</tspan></text>
<text x="37.50" y="235.27" font-size="8.3" text-anchor="end">10<tspan font-size="4.7" dy="-2.9">8</tspan></text>
<text x="37.50" y="208.62" font-size="8.3" text-anchor="end">10<tspan font-size="4.7" dy="-2.9">9</tspan></text>
<rect x="40.65" y="300.03" width="3.30" height="3.30" fill="#000"/>
<rect x="43.91" y="299.97" width="3.30" height="3.30" fill="#000"/>
<rect x="47.16" y="299.92" width="3.30" height="3.30" fill="#000"/>
<rect x="50.42" y="299.87" width="3.30" height="3.30" fill="#000"/>
<rect x="53.68" y="299.81" width="3.30" height="3.30" fill="#000"/>
<rect x="56.94" y="299.76" width="3.30" height="3.30" fill="#000"/>
<rect x="60.20" y="299.71" width="3.30" height="3.30" fill="#000"/>
<rect x="63.45" y="299.65" width="3.30" height="3.30" fill="#000"/>
<rect x="66.71" y="299.60" width="3.30" height="3.30" fill="#000"/>
<rect x="69.97" y="299.55" width="3.30" height="3.30" fill="#000"/>
<rect x="73.22" y="299.49" width="3.30" height="3.30" fill="#000"/>
<rect x="76.48" y="299.41" width="3.30" height="3.30" fill="#000"/>
<rect x="79.74" y="299.33" width="3.30" height="3.30" fill="#000"/>
<rect x="83.00" y="299.25" width="3.30" height="3.30" fill="#000"/>
<rect x="86.25" y="299.17" width="3.30" height="3.30" fill="#000"/>
<rect x="89.51" y="299.09" width="3.30" height="3.30" fill="#000"/>
<rect x="92.77" y="299.01" width="3.30" height="3.30" fill="#000"/>
<rect x="96.03" y="298.93" width="3.30" height="3.30" fill="#000"/>
<rect x="99.28" y="298.85" width="3.30" height="3.30" fill="#000"/>
<rect x="102.54" y="298.77" width="3.30" height="3.30" fill="#000"/>
<rect x="105.80" y="298.69" width="3.30" height="3.30" fill="#000"/>
<rect x="109.06" y="298.48" width="3.30" height="3.30" fill="#000"/>
<rect x="112.31" y="298.27" width="3.30" height="3.30" fill="#000"/>
<rect x="115.57" y="298.05" width="3.30" height="3.30" fill="#000"/>
<rect x="118.83" y="297.84" width="3.30" height="3.30" fill="#000"/>
<rect x="122.09" y="297.63" width="3.30" height="3.30" fill="#000"/>
<rect x="125.34" y="296.99" width="3.30" height="3.30" fill="#000"/>
<rect x="128.60" y="296.35" width="3.30" height="3.30" fill="#000"/>
<rect x="131.86" y="295.71" width="3.30" height="3.30" fill="#000"/>
<rect x="135.12" y="295.07" width="3.30" height="3.30" fill="#000"/>
<rect x="138.38" y="294.43" width="3.30" height="3.30" fill="#000"/>
<rect x="141.63" y="293.28" width="3.30" height="3.30" fill="#000"/>
<rect x="144.89" y="292.12" width="3.30" height="3.30" fill="#000"/>
<rect x="148.15" y="290.97" width="3.30" height="3.30" fill="#000"/>
<rect x="151.41" y="288.97" width="3.30" height="3.30" fill="#000"/>
<rect x="154.66" y="286.97" width="3.30" height="3.30" fill="#000"/>
<rect x="157.92" y="282.97" width="3.30" height="3.30" fill="#000"/>
<rect x="161.18" y="278.98" width="3.30" height="3.30" fill="#000"/>
<rect x="164.44" y="258.99" width="3.30" height="3.30" fill="#000"/>
<circle cx="42.30" cy="292.46" r="1.80" fill="#ff0000"/>
<circle cx="45.56" cy="292.42" r="1.80" fill="#ff0000"/>
<circle cx="48.81" cy="292.38" r="1.80" fill="#ff0000"/>
<circle cx="52.07" cy="292.34" r="1.80" fill="#ff0000"/>
<circle cx="55.33" cy="292.31" r="1.80" fill="#ff0000"/>
<circle cx="58.59" cy="292.27" r="1.80" fill="#ff0000"/>
<circle cx="61.84" cy="292.23" r="1.80" fill="#ff0000"/>
<circle cx="65.10" cy="292.20" r="1.80" fill="#ff0000"/>
<circle cx="68.36" cy="292.16" r="1.80" fill="#ff0000"/>
<circle cx="71.62" cy="292.12" r="1.80" fill="#ff0000"/>
<circle cx="74.88" cy="292.08" r="1.80" fill="#ff0000"/>
<circle cx="78.13" cy="292.00" r="1.80" fill="#ff0000"/>
<circle cx="81.39" cy="291.92" r="1.80" fill="#ff0000"/>
<circle cx="84.65" cy="291.84" r="1.80" fill="#ff0000"/>
<circle cx="87.91" cy="291.76" r="1.80" fill="#ff0000"/>
<circle cx="91.16" cy="291.68" r="1.80" fill="#ff0000"/>
<circle cx="94.42" cy="291.60" r="1.80" fill="#ff0000"/>
<circle cx="97.68" cy="291.52" r="1.80" fill="#ff0000"/>
<circle cx="100.94" cy="291.44" r="1.80" fill="#ff0000"/>
<circle cx="104.19" cy="291.36" r="1.80" fill="#ff0000"/>
<circle cx="107.45" cy="291.28" r="1.80" fill="#ff0000"/>
<circle cx="110.71" cy="291.07" r="1.80" fill="#ff0000"/>
<circle cx="113.97" cy="290.86" r="1.80" fill="#ff0000"/>
<circle cx="117.22" cy="290.64" r="1.80" fill="#ff0000"/>
<circle cx="120.48" cy="290.43" r="1.80" fill="#ff0000"/>
<circle cx="123.74" cy="290.22" r="1.80" fill="#ff0000"/>
<circle cx="127.00" cy="289.74" r="1.80" fill="#ff0000"/>
<circle cx="130.25" cy="289.26" r="1.80" fill="#ff0000"/>
<circle cx="133.51" cy="288.78" r="1.80" fill="#ff0000"/>
<circle cx="136.77" cy="288.30" r="1.80" fill="#ff0000"/>
<circle cx="140.03" cy="287.82" r="1.80" fill="#ff0000"/>
<circle cx="143.28" cy="287.02" r="1.80" fill="#ff0000"/>
<circle cx="146.54" cy="286.22" r="1.80" fill="#ff0000"/>
<circle cx="149.80" cy="285.42" r="1.80" fill="#ff0000"/>
<circle cx="153.06" cy="284.09" r="1.80" fill="#ff0000"/>
<circle cx="156.31" cy="282.76" r="1.80" fill="#ff0000"/>
<circle cx="159.57" cy="280.36" r="1.80" fill="#ff0000"/>
<circle cx="162.83" cy="277.96" r="1.80" fill="#ff0000"/>
<circle cx="166.09" cy="253.98" r="1.80" fill="#ff0000"/>
<circle cx="169.34" cy="246.25" r="1.80" fill="#ff0000"/>
<circle cx="171.62" cy="206.02" r="1.80" fill="#ff0000"/>
<path d="M42.30 280.27L44.40 283.78L40.20 283.78Z" fill="#00dd00"/>
<path d="M45.56 280.22L47.66 283.73L43.46 283.73Z" fill="#00dd00"/>
<path d="M48.81 280.17L50.91 283.68L46.71 283.68Z" fill="#00dd00"/>
<path d="M52.07 280.11L54.17 283.62L49.97 283.62Z" fill="#00dd00"/>
<path d="M55.33 280.06L57.43 283.57L53.23 283.57Z" fill="#00dd00"/>
<path d="M58.59 280.01L60.69 283.52L56.49 283.52Z" fill="#00dd00"/>
<path d="M61.84 279.95L63.95 283.46L59.74 283.46Z" fill="#00dd00"/>
<path d="M65.10 279.90L67.20 283.41L63.00 283.41Z" fill="#00dd00"/>
<path d="M68.36 279.85L70.46 283.36L66.26 283.36Z" fill="#00dd00"/>
<path d="M71.62 279.80L73.72 283.31L69.52 283.31Z" fill="#00dd00"/>
<path d="M74.88 279.74L76.97 283.25L72.78 283.25Z" fill="#00dd00"/>
<path d="M78.13 279.64L80.23 283.15L76.03 283.15Z" fill="#00dd00"/>
<path d="M81.39 279.53L83.49 283.04L79.29 283.04Z" fill="#00dd00"/>
<path d="M84.65 279.42L86.75 282.93L82.55 282.93Z" fill="#00dd00"/>
<path d="M87.91 279.32L90.00 282.83L85.81 282.83Z" fill="#00dd00"/>
<path d="M91.16 279.21L93.26 282.72L89.06 282.72Z" fill="#00dd00"/>
<path d="M94.42 279.10L96.52 282.61L92.32 282.61Z" fill="#00dd00"/>
<path d="M97.68 279.00L99.78 282.51L95.58 282.51Z" fill="#00dd00"/>
<path d="M100.94 278.89L103.03 282.40L98.84 282.40Z" fill="#00dd00"/>
<path d="M104.19 278.78L106.29 282.29L102.09 282.29Z" fill="#00dd00"/>
<path d="M107.45 278.68L109.55 282.19L105.35 282.19Z" fill="#00dd00"/>
<path d="M110.71 278.46L112.81 281.97L108.61 281.97Z" fill="#00dd00"/>
<path d="M113.97 278.25L116.06 281.76L111.87 281.76Z" fill="#00dd00"/>
<path d="M117.22 278.04L119.32 281.55L115.12 281.55Z" fill="#00dd00"/>
<path d="M120.48 277.82L122.58 281.33L118.38 281.33Z" fill="#00dd00"/>
<path d="M123.74 277.61L125.84 281.12L121.64 281.12Z" fill="#00dd00"/>
<path d="M127.00 277.29L129.09 280.80L124.90 280.80Z" fill="#00dd00"/>
<path d="M130.25 276.97L132.35 280.48L128.15 280.48Z" fill="#00dd00"/>
<path d="M133.51 276.65L135.61 280.16L131.41 280.16Z" fill="#00dd00"/>
<path d="M136.77 276.33L138.87 279.84L134.67 279.84Z" fill="#00dd00"/>
<path d="M140.03 276.01L142.12 279.52L137.93 279.52Z" fill="#00dd00"/>
<path d="M143.28 275.39L145.38 278.90L141.18 278.90Z" fill="#00dd00"/>
<path d="M146.54 274.77L148.64 278.28L144.44 278.28Z" fill="#00dd00"/>
<path d="M149.80 274.15L151.90 277.66L147.70 277.66Z" fill="#00dd00"/>
<path d="M153.06 273.08L155.16 276.59L150.96 276.59Z" fill="#00dd00"/>
<path d="M156.31 272.01L158.41 275.52L154.21 275.52Z" fill="#00dd00"/>
<path d="M159.57 270.02L161.67 273.53L157.47 273.53Z" fill="#00dd00"/>
<path d="M162.83 268.02L164.93 271.53L160.73 271.53Z" fill="#00dd00"/>
<path d="M166.09 251.50L168.19 255.01L163.99 255.01Z" fill="#00dd00"/>
<path d="M169.34 236.04L171.44 239.55L167.24 239.55Z" fill="#00dd00"/>
<path d="M171.62 202.74L173.72 206.25L169.52 206.25Z" fill="#00dd00"/>
<path d="M42.30 281.14L44.40 277.63L40.20 277.63Z" fill="#0000ff"/>
<path d="M45.56 281.09L47.66 277.58L43.46 277.58Z" fill="#0000ff"/>
<path d="M48.81 281.05L50.91 277.54L46.71 277.54Z" fill="#0000ff"/>
<path d="M52.07 281.01L54.17 277.50L49.97 277.50Z" fill="#0000ff"/>
<path d="M55.33 280.97L57.43 277.46L53.23 277.46Z" fill="#0000ff"/>
<path d="M58.59 280.92L60.69 277.41L56.49 277.41Z" fill="#0000ff"/>
<path d="M61.84 280.88L63.95 277.37L59.74 277.37Z" fill="#0000ff"/>
<path d="M65.10 280.84L67.20 277.33L63.00 277.33Z" fill="#0000ff"/>
<path d="M68.36 280.80L70.46 277.29L66.26 277.29Z" fill="#0000ff"/>
<path d="M71.62 280.75L73.72 277.24L69.52 277.24Z" fill="#0000ff"/>
<path d="M74.88 280.71L76.97 277.20L72.78 277.20Z" fill="#0000ff"/>
<path d="M78.13 280.60L80.23 277.09L76.03 277.09Z" fill="#0000ff"/>
<path d="M81.39 280.50L83.49 276.99L79.29 276.99Z" fill="#0000ff"/>
<path d="M84.65 280.39L86.75 276.88L82.55 276.88Z" fill="#0000ff"/>
<path d="M87.91 280.28L90.00 276.77L85.81 276.77Z" fill="#0000ff"/>
<path d="M91.16 280.18L93.26 276.67L89.06 276.67Z" fill="#0000ff"/>
<path d="M94.42 280.07L96.52 276.56L92.32 276.56Z" fill="#0000ff"/>
<path d="M97.68 279.96L99.78 276.45L95.58 276.45Z" fill="#0000ff"/>
<path d="M100.94 279.86L103.03 276.35L98.84 276.35Z" fill="#0000ff"/>
<path d="M104.19 279.75L106.29 276.24L102.09 276.24Z" fill="#0000ff"/>
<path d="M107.45 279.65L109.55 276.14L105.35 276.14Z" fill="#0000ff"/>
<path d="M110.71 279.49L112.81 275.98L108.61 275.98Z" fill="#0000ff"/>
<path d="M113.97 279.33L116.06 275.82L111.87 275.82Z" fill="#0000ff"/>
<path d="M117.22 279.17L119.32 275.66L115.12 275.66Z" fill="#0000ff"/>
<path d="M120.48 279.01L122.58 275.50L118.38 275.50Z" fill="#0000ff"/>
<path d="M123.74 278.85L125.84 275.34L121.64 275.34Z" fill="#0000ff"/>
<path d="M127.00 278.53L129.09 275.02L124.90 275.02Z" fill="#0000ff"/>
<path d="M130.25 278.21L132.35 274.70L128.15 274.70Z" fill="#0000ff"/>
<path d="M133.51 277.89L135.61 274.38L131.41 274.38Z" fill="#0000ff"/>
<path d="M136.77 277.57L138.87 274.06L134.67 274.06Z" fill="#0000ff"/>
<path d="M140.03 277.25L142.12 273.74L137.93 273.74Z" fill="#0000ff"/>
<path d="M143.28 276.71L145.38 273.20L141.18 273.20Z" fill="#0000ff"/>
<path d="M146.54 276.18L148.64 272.67L144.44 272.67Z" fill="#0000ff"/>
<path d="M149.80 275.65L151.90 272.14L147.70 272.14Z" fill="#0000ff"/>
<path d="M153.06 274.45L155.16 270.94L150.96 270.94Z" fill="#0000ff"/>
<path d="M156.31 273.25L158.41 269.74L154.21 269.74Z" fill="#0000ff"/>
<path d="M159.57 271.25L161.67 267.74L157.47 267.74Z" fill="#0000ff"/>
<path d="M162.83 269.25L164.93 265.74L160.73 265.74Z" fill="#0000ff"/>
<path d="M166.09 254.60L168.19 251.09L163.99 251.09Z" fill="#0000ff"/>
<path d="M169.34 238.61L171.44 235.10L167.24 235.10Z" fill="#0000ff"/>
<path d="M171.62 205.31L173.72 201.80L169.52 201.80Z" fill="#0000ff"/>
<rect x="56.15" y="203.95" width="3.70" height="3.70" fill="#000"/>
<text x="62.00" y="207.90" font-size="7.45">PAAm</text>
<circle cx="58.00" cy="215.70" r="2.02" fill="#ff0000"/>
<text x="62.00" y="217.80" font-size="7.45">CMC/PAAm</text>
<path d="M58.00 223.22L60.35 227.15L55.65 227.15Z" fill="#00dd00"/>
<text x="62.00" y="227.50" font-size="7.45">Alg/PAAm</text>
<path d="M58.00 238.28L60.35 234.35L55.65 234.35Z" fill="#0000ff"/>
<text x="62.00" y="238.20" font-size="7.45">Alg/CMC/PAAm</text>
<text x="66.00" y="246.80" font-size="7.45">(The STICH)</text>
<text transform="translate(19.00,253.20) rotate(-90)" font-size="8.6" text-anchor="middle">Dynamic modulus, G<tspan font-size='5' dy='-3'>*</tspan><tspan dy='3'> (Pa)</tspan></text>
<text x="107.45" y="339.5" font-size="9.9" text-anchor="middle">Frequency (Hz)</text>
</g>
<g id="pf">
<line x1="417.04" y1="311.70" x2="417.04" y2="313.50" stroke="#000" stroke-width="0.8"/>
<line x1="422.80" y1="311.70" x2="422.80" y2="313.50" stroke="#000" stroke-width="0.8"/>
<line x1="426.89" y1="311.70" x2="426.89" y2="313.50" stroke="#000" stroke-width="0.8"/>
<line x1="430.06" y1="311.70" x2="430.06" y2="313.50" stroke="#000" stroke-width="0.8"/>
<line x1="432.65" y1="311.70" x2="432.65" y2="313.50" stroke="#000" stroke-width="0.8"/>
<line x1="434.83" y1="311.70" x2="434.83" y2="313.50" stroke="#000" stroke-width="0.8"/>
<line x1="436.73" y1="311.70" x2="436.73" y2="313.50" stroke="#000" stroke-width="0.8"/>
<line x1="438.40" y1="311.70" x2="438.40" y2="313.50" stroke="#000" stroke-width="0.8"/>
<line x1="449.74" y1="311.70" x2="449.74" y2="313.50" stroke="#000" stroke-width="0.8"/>
<line x1="455.50" y1="311.70" x2="455.50" y2="313.50" stroke="#000" stroke-width="0.8"/>
<line x1="459.59" y1="311.70" x2="459.59" y2="313.50" stroke="#000" stroke-width="0.8"/>
<line x1="462.76" y1="311.70" x2="462.76" y2="313.50" stroke="#000" stroke-width="0.8"/>
<line x1="465.35" y1="311.70" x2="465.35" y2="313.50" stroke="#000" stroke-width="0.8"/>
<line x1="467.53" y1="311.70" x2="467.53" y2="313.50" stroke="#000" stroke-width="0.8"/>
<line x1="469.43" y1="311.70" x2="469.43" y2="313.50" stroke="#000" stroke-width="0.8"/>
<line x1="471.10" y1="311.70" x2="471.10" y2="313.50" stroke="#000" stroke-width="0.8"/>
<line x1="482.44" y1="311.70" x2="482.44" y2="313.50" stroke="#000" stroke-width="0.8"/>
<line x1="488.20" y1="311.70" x2="488.20" y2="313.50" stroke="#000" stroke-width="0.8"/>
<line x1="492.29" y1="311.70" x2="492.29" y2="313.50" stroke="#000" stroke-width="0.8"/>
<line x1="495.46" y1="311.70" x2="495.46" y2="313.50" stroke="#000" stroke-width="0.8"/>
<line x1="498.05" y1="311.70" x2="498.05" y2="313.50" stroke="#000" stroke-width="0.8"/>
<line x1="500.23" y1="311.70" x2="500.23" y2="313.50" stroke="#000" stroke-width="0.8"/>
<line x1="502.13" y1="311.70" x2="502.13" y2="313.50" stroke="#000" stroke-width="0.8"/>
<line x1="503.80" y1="311.70" x2="503.80" y2="313.50" stroke="#000" stroke-width="0.8"/>
<line x1="515.14" y1="311.70" x2="515.14" y2="313.50" stroke="#000" stroke-width="0.8"/>
<line x1="520.90" y1="311.70" x2="520.90" y2="313.50" stroke="#000" stroke-width="0.8"/>
<line x1="524.99" y1="311.70" x2="524.99" y2="313.50" stroke="#000" stroke-width="0.8"/>
<line x1="528.16" y1="311.70" x2="528.16" y2="313.50" stroke="#000" stroke-width="0.8"/>
<line x1="530.75" y1="311.70" x2="530.75" y2="313.50" stroke="#000" stroke-width="0.8"/>
<line x1="532.93" y1="311.70" x2="532.93" y2="313.50" stroke="#000" stroke-width="0.8"/>
<line x1="534.83" y1="311.70" x2="534.83" y2="313.50" stroke="#000" stroke-width="0.8"/>
<line x1="536.50" y1="311.70" x2="536.50" y2="313.50" stroke="#000" stroke-width="0.8"/>
<line x1="407.20" y1="311.70" x2="407.20" y2="314.90" stroke="#000" stroke-width="1.3"/>
<line x1="439.90" y1="311.70" x2="439.90" y2="314.90" stroke="#000" stroke-width="1.3"/>
<line x1="472.60" y1="311.70" x2="472.60" y2="314.90" stroke="#000" stroke-width="1.3"/>
<line x1="505.30" y1="311.70" x2="505.30" y2="314.90" stroke="#000" stroke-width="1.3"/>
<line x1="538.00" y1="311.70" x2="538.00" y2="314.90" stroke="#000" stroke-width="1.3"/>
<line x1="404.00" y1="311.70" x2="407.20" y2="311.70" stroke="#000" stroke-width="1.3"/>
<line x1="404.00" y1="288.92" x2="407.20" y2="288.92" stroke="#000" stroke-width="1.3"/>
<line x1="404.00" y1="266.14" x2="407.20" y2="266.14" stroke="#000" stroke-width="1.3"/>
<line x1="404.00" y1="243.36" x2="407.20" y2="243.36" stroke="#000" stroke-width="1.3"/>
<line x1="404.00" y1="220.58" x2="407.20" y2="220.58" stroke="#000" stroke-width="1.3"/>
<line x1="404.00" y1="197.80" x2="407.20" y2="197.80" stroke="#000" stroke-width="1.3"/>
<path d="M407.20 197.80H538.00V311.70H407.20Z" fill="none" stroke="#000" stroke-width="1.5"/>
<text x="401.30" y="324.30" font-size="8.3" text-anchor="start">10<tspan font-size="4.70" dy="-2.9">&#8722;2</tspan></text>
<text x="434.00" y="324.30" font-size="8.3" text-anchor="start">10<tspan font-size="4.70" dy="-2.9">&#8722;1</tspan></text>
<text x="469.40" y="324.30" font-size="8.3" text-anchor="start">10<tspan font-size="4.70" dy="-2.9">0</tspan></text>
<text x="502.10" y="324.30" font-size="8.3" text-anchor="start">10<tspan font-size="4.70" dy="-2.9">1</tspan></text>
<text x="534.80" y="324.30" font-size="8.3" text-anchor="start">10<tspan font-size="4.70" dy="-2.9">2</tspan></text>
<text x="402.7" y="314.70" font-size="8.3" text-anchor="end">0.0</text>
<text x="402.7" y="291.92" font-size="8.3" text-anchor="end">0.04</text>
<text x="402.7" y="269.14" font-size="8.3" text-anchor="end">0.08</text>
<text x="402.7" y="246.36" font-size="8.3" text-anchor="end">0.12</text>
<text x="402.7" y="223.58" font-size="8.3" text-anchor="end">0.16</text>
<text x="402.7" y="200.80" font-size="8.3" text-anchor="end">0.2</text>
<rect x="405.55" y="291.15" width="3.30" height="3.30" fill="#000"/>
<rect x="408.82" y="291.15" width="3.30" height="3.30" fill="#000"/>
<rect x="412.09" y="291.15" width="3.30" height="3.30" fill="#000"/>
<rect x="415.36" y="291.56" width="3.30" height="3.30" fill="#000"/>
<rect x="418.63" y="292.13" width="3.30" height="3.30" fill="#000"/>
<rect x="421.90" y="292.25" width="3.30" height="3.30" fill="#000"/>
<rect x="425.17" y="292.25" width="3.30" height="3.30" fill="#000"/>
<rect x="428.44" y="292.08" width="3.30" height="3.30" fill="#000"/>
<rect x="431.71" y="291.76" width="3.30" height="3.30" fill="#000"/>
<rect x="434.98" y="291.21" width="3.30" height="3.30" fill="#000"/>
<rect x="438.25" y="290.18" width="3.30" height="3.30" fill="#000"/>
<rect x="441.52" y="289.41" width="3.30" height="3.30" fill="#000"/>
<rect x="444.79" y="289.06" width="3.30" height="3.30" fill="#000"/>
<rect x="448.06" y="288.72" width="3.30" height="3.30" fill="#000"/>
<rect x="451.33" y="288.38" width="3.30" height="3.30" fill="#000"/>
<rect x="454.60" y="288.03" width="3.30" height="3.30" fill="#000"/>
<rect x="457.87" y="287.37" width="3.30" height="3.30" fill="#000"/>
<rect x="461.14" y="286.33" width="3.30" height="3.30" fill="#000"/>
<rect x="464.41" y="285.29" width="3.30" height="3.30" fill="#000"/>
<rect x="467.68" y="284.17" width="3.30" height="3.30" fill="#000"/>
<rect x="470.95" y="282.39" width="3.30" height="3.30" fill="#000"/>
<rect x="474.22" y="280.60" width="3.30" height="3.30" fill="#000"/>
<rect x="477.49" y="278.82" width="3.30" height="3.30" fill="#000"/>
<rect x="480.76" y="275.89" width="3.30" height="3.30" fill="#000"/>
<rect x="484.03" y="272.56" width="3.30" height="3.30" fill="#000"/>
<rect x="487.30" y="269.23" width="3.30" height="3.30" fill="#000"/>
<rect x="490.57" y="266.65" width="3.30" height="3.30" fill="#000"/>
<rect x="493.84" y="264.75" width="3.30" height="3.30" fill="#000"/>
<rect x="497.11" y="262.85" width="3.30" height="3.30" fill="#000"/>
<rect x="500.38" y="260.95" width="3.30" height="3.30" fill="#000"/>
<rect x="503.65" y="255.65" width="3.30" height="3.30" fill="#000"/>
<rect x="506.92" y="251.75" width="3.30" height="3.30" fill="#000"/>
<rect x="510.19" y="250.45" width="3.30" height="3.30" fill="#000"/>
<rect x="513.46" y="248.85" width="3.30" height="3.30" fill="#000"/>
<rect x="516.73" y="247.55" width="3.30" height="3.30" fill="#000"/>
<rect x="520.00" y="246.45" width="3.30" height="3.30" fill="#000"/>
<rect x="523.27" y="259.55" width="3.30" height="3.30" fill="#000"/>
<rect x="526.54" y="281.75" width="3.30" height="3.30" fill="#000"/>
<circle cx="407.20" cy="298.40" r="1.80" fill="#ff0000"/>
<circle cx="410.47" cy="297.84" r="1.80" fill="#ff0000"/>
<circle cx="413.74" cy="297.25" r="1.80" fill="#ff0000"/>
<circle cx="417.01" cy="296.60" r="1.80" fill="#ff0000"/>
<circle cx="420.28" cy="295.78" r="1.80" fill="#ff0000"/>
<circle cx="423.55" cy="294.96" r="1.80" fill="#ff0000"/>
<circle cx="426.82" cy="294.23" r="1.80" fill="#ff0000"/>
<circle cx="430.09" cy="293.69" r="1.80" fill="#ff0000"/>
<circle cx="433.36" cy="293.14" r="1.80" fill="#ff0000"/>
<circle cx="436.63" cy="292.43" r="1.80" fill="#ff0000"/>
<circle cx="439.90" cy="291.45" r="1.80" fill="#ff0000"/>
<circle cx="443.17" cy="290.47" r="1.80" fill="#ff0000"/>
<circle cx="446.44" cy="289.63" r="1.80" fill="#ff0000"/>
<circle cx="449.71" cy="288.79" r="1.80" fill="#ff0000"/>
<circle cx="452.98" cy="286.75" r="1.80" fill="#ff0000"/>
<circle cx="456.25" cy="284.75" r="1.80" fill="#ff0000"/>
<circle cx="459.52" cy="283.64" r="1.80" fill="#ff0000"/>
<circle cx="462.79" cy="282.52" r="1.80" fill="#ff0000"/>
<circle cx="466.06" cy="281.30" r="1.80" fill="#ff0000"/>
<circle cx="469.33" cy="278.82" r="1.80" fill="#ff0000"/>
<circle cx="472.60" cy="276.35" r="1.80" fill="#ff0000"/>
<circle cx="475.87" cy="273.92" r="1.80" fill="#ff0000"/>
<circle cx="479.14" cy="271.23" r="1.80" fill="#ff0000"/>
<circle cx="482.41" cy="268.30" r="1.80" fill="#ff0000"/>
<circle cx="485.68" cy="264.87" r="1.80" fill="#ff0000"/>
<circle cx="488.95" cy="261.27" r="1.80" fill="#ff0000"/>
<circle cx="492.22" cy="257.26" r="1.80" fill="#ff0000"/>
<circle cx="495.49" cy="253.41" r="1.80" fill="#ff0000"/>
<circle cx="498.76" cy="249.83" r="1.80" fill="#ff0000"/>
<circle cx="502.03" cy="246.30" r="1.80" fill="#ff0000"/>
<circle cx="505.30" cy="241.60" r="1.80" fill="#ff0000"/>
<circle cx="508.57" cy="236.90" r="1.80" fill="#ff0000"/>
<circle cx="511.84" cy="231.10" r="1.80" fill="#ff0000"/>
<circle cx="515.11" cy="225.90" r="1.80" fill="#ff0000"/>
<circle cx="518.38" cy="213.60" r="1.80" fill="#ff0000"/>
<circle cx="521.65" cy="221.20" r="1.80" fill="#ff0000"/>
<circle cx="524.92" cy="223.30" r="1.80" fill="#ff0000"/>
<circle cx="528.19" cy="241.60" r="1.80" fill="#ff0000"/>
<path d="M407.20 296.45L409.30 299.96L405.10 299.96Z" fill="#00dd00"/>
<path d="M410.47 296.20L412.57 299.71L408.37 299.71Z" fill="#00dd00"/>
<path d="M413.74 295.66L415.84 299.17L411.64 299.17Z" fill="#00dd00"/>
<path d="M417.01 295.16L419.11 298.67L414.91 298.67Z" fill="#00dd00"/>
<path d="M420.28 294.65L422.38 298.16L418.18 298.16Z" fill="#00dd00"/>
<path d="M423.55 294.15L425.65 297.66L421.45 297.66Z" fill="#00dd00"/>
<path d="M426.82 293.40L428.92 296.91L424.72 296.91Z" fill="#00dd00"/>
<path d="M430.09 292.58L432.19 296.09L427.99 296.09Z" fill="#00dd00"/>
<path d="M433.36 291.76L435.46 295.27L431.26 295.27Z" fill="#00dd00"/>
<path d="M436.63 290.94L438.73 294.45L434.53 294.45Z" fill="#00dd00"/>
<path d="M439.90 290.12L442.00 293.63L437.80 293.63Z" fill="#00dd00"/>
<path d="M443.17 289.30L445.27 292.81L441.07 292.81Z" fill="#00dd00"/>
<path d="M446.44 288.47L448.54 291.98L444.34 291.98Z" fill="#00dd00"/>
<path d="M449.71 287.65L451.81 291.16L447.61 291.16Z" fill="#00dd00"/>
<path d="M452.98 286.56L455.08 290.07L450.88 290.07Z" fill="#00dd00"/>
<path d="M456.25 285.47L458.35 288.98L454.15 288.98Z" fill="#00dd00"/>
<path d="M459.52 284.34L461.62 287.85L457.42 287.85Z" fill="#00dd00"/>
<path d="M462.79 282.69L464.89 286.20L460.69 286.20Z" fill="#00dd00"/>
<path d="M466.06 281.04L468.16 284.55L463.96 284.55Z" fill="#00dd00"/>
<path d="M469.33 279.39L471.43 282.90L467.23 282.90Z" fill="#00dd00"/>
<path d="M472.60 277.62L474.70 281.13L470.50 281.13Z" fill="#00dd00"/>
<path d="M475.87 275.82L477.97 279.33L473.77 279.33Z" fill="#00dd00"/>
<path d="M479.14 274.02L481.24 277.53L477.04 277.53Z" fill="#00dd00"/>
<path d="M482.41 271.38L484.51 274.89L480.31 274.89Z" fill="#00dd00"/>
<path d="M485.68 268.44L487.78 271.95L483.58 271.95Z" fill="#00dd00"/>
<path d="M488.95 265.50L491.05 269.00L486.85 269.00Z" fill="#00dd00"/>
<path d="M492.22 262.44L494.32 265.95L490.12 265.95Z" fill="#00dd00"/>
<path d="M495.49 259.33L497.59 262.84L493.39 262.84Z" fill="#00dd00"/>
<path d="M498.76 256.23L500.86 259.74L496.66 259.74Z" fill="#00dd00"/>
<path d="M502.03 253.27L504.13 256.78L499.93 256.78Z" fill="#00dd00"/>
<path d="M505.30 250.41L507.40 253.92L503.20 253.92Z" fill="#00dd00"/>
<path d="M508.57 247.67L510.67 251.18L506.47 251.18Z" fill="#00dd00"/>
<path d="M511.84 245.49L513.94 249.00L509.74 249.00Z" fill="#00dd00"/>
<path d="M515.11 242.25L517.21 245.76L513.01 245.76Z" fill="#00dd00"/>
<path d="M518.38 240.95L520.48 244.46L516.28 244.46Z" fill="#00dd00"/>
<path d="M521.65 243.05L523.75 246.56L519.55 246.56Z" fill="#00dd00"/>
<path d="M524.92 244.85L527.02 248.36L522.82 248.36Z" fill="#00dd00"/>
<path d="M528.19 263.95L530.29 267.46L526.09 267.46Z" fill="#00dd00"/>
<path d="M407.20 304.35L409.30 300.84L405.10 300.84Z" fill="#0000ff"/>
<path d="M410.47 304.08L412.57 300.57L408.37 300.57Z" fill="#0000ff"/>
<path d="M413.74 303.49L415.84 299.98L411.64 299.98Z" fill="#0000ff"/>
<path d="M417.01 302.89L419.11 299.38L414.91 299.38Z" fill="#0000ff"/>
<path d="M420.28 302.25L422.38 298.74L418.18 298.74Z" fill="#0000ff"/>
<path d="M423.55 301.60L425.65 298.09L421.45 298.09Z" fill="#0000ff"/>
<path d="M426.82 300.95L428.92 297.44L424.72 297.44Z" fill="#0000ff"/>
<path d="M430.09 300.29L432.19 296.78L427.99 296.78Z" fill="#0000ff"/>
<path d="M433.36 299.64L435.46 296.13L431.26 296.13Z" fill="#0000ff"/>
<path d="M436.63 298.70L438.73 295.19L434.53 295.19Z" fill="#0000ff"/>
<path d="M439.90 297.72L442.00 294.21L437.80 294.21Z" fill="#0000ff"/>
<path d="M443.17 296.57L445.27 293.06L441.07 293.06Z" fill="#0000ff"/>
<path d="M446.44 295.20L448.54 291.69L444.34 291.69Z" fill="#0000ff"/>
<path d="M449.71 293.82L451.81 290.31L447.61 290.31Z" fill="#0000ff"/>
<path d="M452.98 292.48L455.08 288.97L450.88 288.97Z" fill="#0000ff"/>
<path d="M456.25 291.17L458.35 287.66L454.15 287.66Z" fill="#0000ff"/>
<path d="M459.52 289.85L461.62 286.34L457.42 286.34Z" fill="#0000ff"/>
<path d="M462.79 288.38L464.89 284.87L460.69 284.87Z" fill="#0000ff"/>
<path d="M466.06 286.91L468.16 283.40L463.96 283.40Z" fill="#0000ff"/>
<path d="M469.33 284.69L471.43 281.18L467.23 281.18Z" fill="#0000ff"/>
<path d="M472.60 282.01L474.70 278.50L470.50 278.50Z" fill="#0000ff"/>
<path d="M475.87 279.45L477.97 275.94L473.77 275.94Z" fill="#0000ff"/>
<path d="M479.14 277.07L481.24 273.56L477.04 273.56Z" fill="#0000ff"/>
<path d="M482.41 274.14L484.51 270.63L480.31 270.63Z" fill="#0000ff"/>
<path d="M485.68 270.87L487.78 267.36L483.58 267.36Z" fill="#0000ff"/>
<path d="M488.95 267.55L491.05 264.04L486.85 264.04Z" fill="#0000ff"/>
<path d="M492.22 264.29L494.32 260.78L490.12 260.78Z" fill="#0000ff"/>
<path d="M495.49 261.86L497.59 258.35L493.39 258.35Z" fill="#0000ff"/>
<path d="M498.76 259.19L500.86 255.68L496.66 255.68Z" fill="#0000ff"/>
<path d="M502.03 257.95L504.13 254.44L499.93 254.44Z" fill="#0000ff"/>
<path d="M505.30 254.05L507.40 250.54L503.20 250.54Z" fill="#0000ff"/>
<path d="M508.57 250.05L510.67 246.54L506.47 246.54Z" fill="#0000ff"/>
<path d="M511.84 246.15L513.94 242.64L509.74 242.64Z" fill="#0000ff"/>
<path d="M515.11 240.95L517.21 237.44L513.01 237.44Z" fill="#0000ff"/>
<path d="M518.38 240.95L520.48 237.44L516.28 237.44Z" fill="#0000ff"/>
<path d="M521.65 233.85L523.75 230.34L519.55 230.34Z" fill="#0000ff"/>
<path d="M524.92 242.25L527.02 238.74L522.82 238.74Z" fill="#0000ff"/>
<path d="M528.19 266.55L530.29 263.04L526.09 263.04Z" fill="#0000ff"/>
<rect x="420.95" y="203.95" width="3.70" height="3.70" fill="#000"/>
<text x="427.60" y="207.90" font-size="7.45">PAAm</text>
<circle cx="422.80" cy="215.70" r="2.02" fill="#ff0000"/>
<text x="427.60" y="217.80" font-size="7.45">CMC/PAAm</text>
<path d="M422.80 223.22L425.15 227.15L420.45 227.15Z" fill="#00dd00"/>
<text x="427.60" y="227.50" font-size="7.45">Alg/PAAm</text>
<path d="M422.80 238.28L425.15 234.35L420.45 234.35Z" fill="#0000ff"/>
<text x="427.60" y="238.20" font-size="7.45">Alg/CMC/PAAm</text>
<text x="431.60" y="246.80" font-size="7.45">(The STICH)</text>
<text transform="translate(382.00,253.70) rotate(-90)" font-size="8.8" text-anchor="middle">Tan &#948;</text>
<text x="472.60" y="339.5" font-size="9.9" text-anchor="middle">Frequency (Hz)</text>
</g>
<text x="4.0" y="18.3" font-size="17.0" class="w">(a)</text>
<text x="186.3" y="18.3" font-size="17.0" class="w">(b)</text>
<text x="368.6" y="18.3" font-size="17.0" class="w">(c)</text>
<text x="4.0" y="190.8" font-size="17.0" class="w">(d)</text>
<text x="189.6" y="190.8" font-size="17.0" class="w">(e)</text>
<text x="370.1" y="190.8" font-size="17.0" class="w">(f)</text>
</svg>
</body></html>
